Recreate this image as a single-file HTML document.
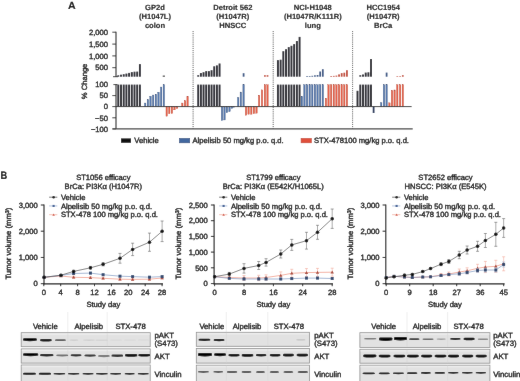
<!DOCTYPE html>
<html><head><meta charset="utf-8"><title>Figure</title>
<style>
html,body{margin:0;padding:0;background:#fff;}
body{width:520px;height:381px;overflow:hidden;}
svg{display:block;text-rendering:geometricPrecision;font-family:"Liberation Sans",sans-serif;}
</style></head><body>
<svg width="520" height="381" viewBox="0 0 520 381">
<defs><filter id="gb" x="0" y="0" width="100%" height="100%" filterUnits="userSpaceOnUse"><feConvolveMatrix order="3" kernelMatrix="0.008 0.032 0.008 0.032 0.84 0.032 0.008 0.032 0.008" edgeMode="duplicate" preserveAlpha="true"/></filter></defs>
<rect width="520" height="381" fill="#fff"/>
<g filter="url(#gb)">
<rect width="520" height="381" fill="#fff"/>
<text x="67.90" y="8.90" font-size="10.6" text-anchor="start" font-weight="bold" fill="#000" stroke="#000" stroke-width="0.12" >A</text>
<text x="155.00" y="10.15" font-size="7.6" text-anchor="middle" font-weight="bold" fill="#111" stroke="#111" stroke-width="0.12" >GP2d</text>
<text x="155.00" y="19.20" font-size="7.6" text-anchor="middle" font-weight="bold" fill="#111" stroke="#111" stroke-width="0.12" >(H1047L)</text>
<text x="155.00" y="28.25" font-size="7.6" text-anchor="middle" font-weight="bold" fill="#111" stroke="#111" stroke-width="0.12" >colon</text>
<text x="232.80" y="10.15" font-size="7.6" text-anchor="middle" font-weight="bold" fill="#111" stroke="#111" stroke-width="0.12" >Detroit 562</text>
<text x="232.80" y="19.20" font-size="7.6" text-anchor="middle" font-weight="bold" fill="#111" stroke="#111" stroke-width="0.12" >(H1047R)</text>
<text x="232.80" y="28.25" font-size="7.6" text-anchor="middle" font-weight="bold" fill="#111" stroke="#111" stroke-width="0.12" >HNSCC</text>
<text x="312.80" y="10.15" font-size="7.6" text-anchor="middle" font-weight="bold" fill="#111" stroke="#111" stroke-width="0.12" >NCI-H1048</text>
<text x="312.80" y="19.20" font-size="7.6" text-anchor="middle" font-weight="bold" fill="#111" stroke="#111" stroke-width="0.12" >(H1047R/K111R)</text>
<text x="312.80" y="28.25" font-size="7.6" text-anchor="middle" font-weight="bold" fill="#111" stroke="#111" stroke-width="0.12" >lung</text>
<text x="383.20" y="10.15" font-size="7.6" text-anchor="middle" font-weight="bold" fill="#111" stroke="#111" stroke-width="0.12" >HCC1954</text>
<text x="383.20" y="19.20" font-size="7.6" text-anchor="middle" font-weight="bold" fill="#111" stroke="#111" stroke-width="0.12" >(H1047R)</text>
<text x="383.20" y="28.25" font-size="7.6" text-anchor="middle" font-weight="bold" fill="#111" stroke="#111" stroke-width="0.12" >BrCa</text>
<line x1="116.00" y1="31.80" x2="116.00" y2="77.00" stroke="#2a2a2a" stroke-width="1.1" />
<line x1="116.00" y1="84.30" x2="116.00" y2="128.90" stroke="#2a2a2a" stroke-width="1.1" />
<line x1="112.30" y1="32.20" x2="116.00" y2="32.20" stroke="#2a2a2a" stroke-width="0.9" />
<text x="108.00" y="34.90" font-size="7.6" text-anchor="end" font-weight="normal" fill="#111" stroke="#111" stroke-width="0.36" >2,000</text>
<line x1="112.30" y1="44.10" x2="116.00" y2="44.10" stroke="#2a2a2a" stroke-width="0.9" />
<text x="108.00" y="46.80" font-size="7.6" text-anchor="end" font-weight="normal" fill="#111" stroke="#111" stroke-width="0.36" >1,500</text>
<line x1="112.30" y1="55.90" x2="116.00" y2="55.90" stroke="#2a2a2a" stroke-width="0.9" />
<text x="108.00" y="58.60" font-size="7.6" text-anchor="end" font-weight="normal" fill="#111" stroke="#111" stroke-width="0.36" >1,000</text>
<line x1="112.30" y1="67.70" x2="116.00" y2="67.70" stroke="#2a2a2a" stroke-width="0.9" />
<text x="108.00" y="70.40" font-size="7.6" text-anchor="end" font-weight="normal" fill="#111" stroke="#111" stroke-width="0.36" >500</text>
<line x1="113.00" y1="76.70" x2="118.00" y2="76.70" stroke="#2a2a2a" stroke-width="0.9" />
<line x1="113.40" y1="84.60" x2="117.50" y2="84.60" stroke="#2a2a2a" stroke-width="0.9" />
<text x="108.00" y="87.30" font-size="7.6" text-anchor="end" font-weight="normal" fill="#111" stroke="#111" stroke-width="0.36" >100</text>
<line x1="112.30" y1="95.60" x2="116.00" y2="95.60" stroke="#2a2a2a" stroke-width="0.9" />
<text x="108.00" y="98.30" font-size="7.6" text-anchor="end" font-weight="normal" fill="#111" stroke="#111" stroke-width="0.36" >50</text>
<line x1="112.30" y1="106.60" x2="116.00" y2="106.60" stroke="#2a2a2a" stroke-width="0.9" />
<text x="108.00" y="109.30" font-size="7.6" text-anchor="end" font-weight="normal" fill="#111" stroke="#111" stroke-width="0.36" >0</text>
<line x1="112.30" y1="117.80" x2="116.00" y2="117.80" stroke="#2a2a2a" stroke-width="0.9" />
<text x="108.00" y="120.50" font-size="7.6" text-anchor="end" font-weight="normal" fill="#111" stroke="#111" stroke-width="0.36" >−50</text>
<line x1="112.30" y1="128.90" x2="116.00" y2="128.90" stroke="#2a2a2a" stroke-width="0.9" />
<text x="108.00" y="131.60" font-size="7.6" text-anchor="end" font-weight="normal" fill="#111" stroke="#111" stroke-width="0.36" >−100</text>
<text x="0.00" y="0.00" font-size="7.6" text-anchor="middle" font-weight="normal" fill="#111" stroke="#111" stroke-width="0.36" transform="translate(86.9 81.4) rotate(-90)">% Change</text>
<line x1="193.10" y1="31.00" x2="193.10" y2="128.50" stroke="#222" stroke-width="0.8" stroke-dasharray="0.9 1.0"/>
<line x1="273.20" y1="31.00" x2="273.20" y2="128.50" stroke="#222" stroke-width="0.8" stroke-dasharray="0.9 1.0"/>
<line x1="352.60" y1="31.00" x2="352.60" y2="128.50" stroke="#222" stroke-width="0.8" stroke-dasharray="0.9 1.0"/>
<rect x="117.35" y="84.60" width="1.90" height="22.00" fill="#26262f" />
<rect x="117.35" y="75.30" width="1.90" height="1.40" fill="#26262f" />
<rect x="120.05" y="84.60" width="1.90" height="22.00" fill="#26262f" />
<rect x="120.05" y="74.70" width="1.90" height="2.00" fill="#26262f" />
<rect x="122.75" y="84.60" width="1.90" height="22.00" fill="#26262f" />
<rect x="122.75" y="74.20" width="1.90" height="2.50" fill="#26262f" />
<rect x="125.45" y="84.60" width="1.90" height="22.00" fill="#26262f" />
<rect x="125.45" y="73.60" width="1.90" height="3.10" fill="#26262f" />
<rect x="128.15" y="84.60" width="1.90" height="22.00" fill="#26262f" />
<rect x="128.15" y="72.90" width="1.90" height="3.80" fill="#26262f" />
<rect x="130.85" y="84.60" width="1.90" height="22.00" fill="#26262f" />
<rect x="130.85" y="72.10" width="1.90" height="4.60" fill="#26262f" />
<rect x="133.55" y="84.60" width="1.90" height="22.00" fill="#26262f" />
<rect x="133.55" y="71.70" width="1.90" height="5.00" fill="#26262f" />
<rect x="136.25" y="84.60" width="1.90" height="22.00" fill="#26262f" />
<rect x="136.25" y="71.60" width="1.90" height="5.10" fill="#26262f" />
<rect x="138.95" y="84.60" width="1.90" height="22.00" fill="#26262f" />
<rect x="138.95" y="64.10" width="1.90" height="12.60" fill="#26262f" />
<rect x="144.47" y="103.05" width="1.45" height="3.40" fill="#4f76ae" stroke="#2c4570" stroke-width="0.3"/>
<rect x="147.13" y="99.55" width="1.45" height="6.90" fill="#4f76ae" stroke="#2c4570" stroke-width="0.3"/>
<rect x="149.79" y="96.25" width="1.45" height="10.20" fill="#4f76ae" stroke="#2c4570" stroke-width="0.3"/>
<rect x="152.45" y="95.05" width="1.45" height="11.40" fill="#4f76ae" stroke="#2c4570" stroke-width="0.3"/>
<rect x="155.11" y="94.15" width="1.45" height="12.30" fill="#4f76ae" stroke="#2c4570" stroke-width="0.3"/>
<rect x="157.78" y="92.15" width="1.45" height="14.30" fill="#4f76ae" stroke="#2c4570" stroke-width="0.3"/>
<rect x="160.44" y="87.05" width="1.45" height="19.40" fill="#4f76ae" stroke="#2c4570" stroke-width="0.3"/>
<rect x="163.09" y="84.75" width="1.45" height="21.70" fill="#4f76ae" stroke="#2c4570" stroke-width="0.3"/>
<rect x="162.72" y="75.60" width="2.20" height="1.10" fill="#333" />
<rect x="165.97" y="106.75" width="1.45" height="9.40" fill="#e85c40" stroke="#b0402c" stroke-width="0.3"/>
<rect x="168.57" y="106.75" width="1.45" height="7.00" fill="#e85c40" stroke="#b0402c" stroke-width="0.3"/>
<rect x="171.17" y="106.75" width="1.45" height="6.80" fill="#e85c40" stroke="#b0402c" stroke-width="0.3"/>
<rect x="173.78" y="106.75" width="1.45" height="3.10" fill="#e85c40" stroke="#b0402c" stroke-width="0.3"/>
<rect x="176.38" y="106.75" width="1.45" height="1.90" fill="#e85c40" stroke="#b0402c" stroke-width="0.3"/>
<rect x="181.58" y="103.05" width="1.45" height="3.40" fill="#e85c40" stroke="#b0402c" stroke-width="0.3"/>
<rect x="184.28" y="100.65" width="1.45" height="5.80" fill="#e85c40" stroke="#b0402c" stroke-width="0.3"/>
<rect x="186.88" y="96.35" width="1.45" height="10.10" fill="#e85c40" stroke="#b0402c" stroke-width="0.3"/>
<rect x="197.25" y="84.60" width="1.90" height="22.00" fill="#26262f" />
<rect x="197.25" y="75.20" width="1.90" height="1.50" fill="#26262f" />
<rect x="199.92" y="84.60" width="1.90" height="22.00" fill="#26262f" />
<rect x="199.92" y="73.00" width="1.90" height="3.70" fill="#26262f" />
<rect x="202.59" y="84.60" width="1.90" height="22.00" fill="#26262f" />
<rect x="202.59" y="72.20" width="1.90" height="4.50" fill="#26262f" />
<rect x="205.26" y="84.60" width="1.90" height="22.00" fill="#26262f" />
<rect x="205.26" y="71.10" width="1.90" height="5.60" fill="#26262f" />
<rect x="207.93" y="84.60" width="1.90" height="22.00" fill="#26262f" />
<rect x="207.93" y="71.10" width="1.90" height="5.60" fill="#26262f" />
<rect x="210.60" y="84.60" width="1.90" height="22.00" fill="#26262f" />
<rect x="210.60" y="70.20" width="1.90" height="6.50" fill="#26262f" />
<rect x="213.27" y="84.60" width="1.90" height="22.00" fill="#26262f" />
<rect x="213.27" y="66.30" width="1.90" height="10.40" fill="#26262f" />
<rect x="215.94" y="84.60" width="1.90" height="22.00" fill="#26262f" />
<rect x="215.94" y="65.40" width="1.90" height="11.30" fill="#26262f" />
<rect x="218.61" y="84.60" width="1.90" height="22.00" fill="#26262f" />
<rect x="218.61" y="63.50" width="1.90" height="13.20" fill="#26262f" />
<rect x="221.28" y="106.75" width="1.45" height="13.80" fill="#4f76ae" stroke="#2c4570" stroke-width="0.3"/>
<rect x="223.78" y="106.75" width="1.45" height="13.20" fill="#4f76ae" stroke="#2c4570" stroke-width="0.3"/>
<rect x="226.18" y="106.75" width="1.45" height="6.00" fill="#4f76ae" stroke="#2c4570" stroke-width="0.3"/>
<rect x="228.78" y="106.75" width="1.45" height="4.90" fill="#4f76ae" stroke="#2c4570" stroke-width="0.3"/>
<rect x="231.28" y="106.75" width="1.45" height="1.70" fill="#4f76ae" stroke="#2c4570" stroke-width="0.3"/>
<rect x="233.28" y="106.75" width="1.45" height="0.50" fill="#4f76ae" stroke="#2c4570" stroke-width="0.3"/>
<rect x="237.47" y="97.55" width="1.45" height="8.90" fill="#4f76ae" stroke="#2c4570" stroke-width="0.3"/>
<rect x="240.08" y="92.05" width="1.45" height="14.40" fill="#4f76ae" stroke="#2c4570" stroke-width="0.3"/>
<rect x="242.88" y="84.75" width="1.45" height="21.70" fill="#4f76ae" stroke="#2c4570" stroke-width="0.3"/>
<rect x="242.72" y="73.20" width="1.75" height="3.50" fill="#3a5684" />
<rect x="245.28" y="106.75" width="1.45" height="8.50" fill="#e85c40" stroke="#b0402c" stroke-width="0.3"/>
<rect x="247.88" y="106.75" width="1.45" height="7.50" fill="#e85c40" stroke="#b0402c" stroke-width="0.3"/>
<rect x="250.58" y="106.75" width="1.45" height="7.50" fill="#e85c40" stroke="#b0402c" stroke-width="0.3"/>
<rect x="253.18" y="106.75" width="1.45" height="7.00" fill="#e85c40" stroke="#b0402c" stroke-width="0.3"/>
<rect x="255.78" y="106.75" width="1.45" height="6.40" fill="#e85c40" stroke="#b0402c" stroke-width="0.3"/>
<rect x="258.38" y="95.15" width="1.45" height="11.30" fill="#e85c40" stroke="#b0402c" stroke-width="0.3"/>
<rect x="261.27" y="89.85" width="1.45" height="16.60" fill="#e85c40" stroke="#b0402c" stroke-width="0.3"/>
<rect x="264.17" y="84.75" width="1.45" height="21.70" fill="#e85c40" stroke="#b0402c" stroke-width="0.3"/>
<rect x="266.77" y="84.75" width="1.45" height="21.70" fill="#e85c40" stroke="#b0402c" stroke-width="0.3"/>
<rect x="264.02" y="75.20" width="1.75" height="1.50" fill="#c04a38" />
<rect x="266.62" y="75.20" width="1.75" height="1.50" fill="#c04a38" />
<rect x="276.95" y="84.60" width="1.90" height="22.00" fill="#26262f" />
<rect x="276.95" y="60.10" width="1.90" height="16.60" fill="#26262f" />
<rect x="279.66" y="84.60" width="1.90" height="22.00" fill="#26262f" />
<rect x="279.66" y="59.70" width="1.90" height="17.00" fill="#26262f" />
<rect x="282.37" y="84.60" width="1.90" height="22.00" fill="#26262f" />
<rect x="282.37" y="51.20" width="1.90" height="25.50" fill="#26262f" />
<rect x="285.08" y="84.60" width="1.90" height="22.00" fill="#26262f" />
<rect x="285.08" y="49.20" width="1.90" height="27.50" fill="#26262f" />
<rect x="287.79" y="84.60" width="1.90" height="22.00" fill="#26262f" />
<rect x="287.79" y="47.10" width="1.90" height="29.60" fill="#26262f" />
<rect x="290.50" y="84.60" width="1.90" height="22.00" fill="#26262f" />
<rect x="290.50" y="45.80" width="1.90" height="30.90" fill="#26262f" />
<rect x="293.21" y="84.60" width="1.90" height="22.00" fill="#26262f" />
<rect x="293.21" y="44.10" width="1.90" height="32.60" fill="#26262f" />
<rect x="295.92" y="84.60" width="1.90" height="22.00" fill="#26262f" />
<rect x="295.92" y="41.00" width="1.90" height="35.70" fill="#26262f" />
<rect x="298.63" y="84.60" width="1.90" height="22.00" fill="#26262f" />
<rect x="298.63" y="36.90" width="1.90" height="39.80" fill="#26262f" />
<rect x="301.07" y="96.25" width="1.45" height="10.20" fill="#4f76ae" stroke="#2c4570" stroke-width="0.3"/>
<rect x="303.70" y="84.75" width="1.45" height="21.70" fill="#4f76ae" stroke="#2c4570" stroke-width="0.3"/>
<rect x="306.32" y="84.75" width="1.45" height="21.70" fill="#4f76ae" stroke="#2c4570" stroke-width="0.3"/>
<rect x="306.18" y="76.00" width="1.75" height="0.70" fill="#3a5684" />
<rect x="308.95" y="84.75" width="1.45" height="21.70" fill="#4f76ae" stroke="#2c4570" stroke-width="0.3"/>
<rect x="308.80" y="76.00" width="1.75" height="0.70" fill="#3a5684" />
<rect x="311.57" y="84.75" width="1.45" height="21.70" fill="#4f76ae" stroke="#2c4570" stroke-width="0.3"/>
<rect x="311.43" y="75.80" width="1.75" height="0.90" fill="#3a5684" />
<rect x="314.20" y="84.75" width="1.45" height="21.70" fill="#4f76ae" stroke="#2c4570" stroke-width="0.3"/>
<rect x="314.05" y="75.30" width="1.75" height="1.40" fill="#3a5684" />
<rect x="316.82" y="84.75" width="1.45" height="21.70" fill="#4f76ae" stroke="#2c4570" stroke-width="0.3"/>
<rect x="316.68" y="75.00" width="1.75" height="1.70" fill="#3a5684" />
<rect x="319.45" y="84.75" width="1.45" height="21.70" fill="#4f76ae" stroke="#2c4570" stroke-width="0.3"/>
<rect x="319.30" y="71.50" width="1.75" height="5.20" fill="#3a5684" />
<rect x="322.07" y="84.75" width="1.45" height="21.70" fill="#4f76ae" stroke="#2c4570" stroke-width="0.3"/>
<rect x="321.93" y="69.20" width="1.75" height="7.50" fill="#3a5684" />
<rect x="325.17" y="98.15" width="1.45" height="8.30" fill="#e85c40" stroke="#b0402c" stroke-width="0.3"/>
<rect x="327.80" y="84.75" width="1.45" height="21.70" fill="#e85c40" stroke="#b0402c" stroke-width="0.3"/>
<rect x="330.43" y="84.75" width="1.45" height="21.70" fill="#e85c40" stroke="#b0402c" stroke-width="0.3"/>
<rect x="330.28" y="76.00" width="1.75" height="0.70" fill="#c04a38" />
<rect x="333.06" y="84.75" width="1.45" height="21.70" fill="#e85c40" stroke="#b0402c" stroke-width="0.3"/>
<rect x="332.91" y="75.90" width="1.75" height="0.80" fill="#c04a38" />
<rect x="335.69" y="84.75" width="1.45" height="21.70" fill="#e85c40" stroke="#b0402c" stroke-width="0.3"/>
<rect x="335.54" y="75.60" width="1.75" height="1.10" fill="#c04a38" />
<rect x="338.32" y="84.75" width="1.45" height="21.70" fill="#e85c40" stroke="#b0402c" stroke-width="0.3"/>
<rect x="338.17" y="74.40" width="1.75" height="2.30" fill="#c04a38" />
<rect x="340.95" y="84.75" width="1.45" height="21.70" fill="#e85c40" stroke="#b0402c" stroke-width="0.3"/>
<rect x="340.80" y="73.10" width="1.75" height="3.60" fill="#c04a38" />
<rect x="343.58" y="84.75" width="1.45" height="21.70" fill="#e85c40" stroke="#b0402c" stroke-width="0.3"/>
<rect x="343.44" y="72.70" width="1.75" height="4.00" fill="#c04a38" />
<rect x="346.21" y="84.75" width="1.45" height="21.70" fill="#e85c40" stroke="#b0402c" stroke-width="0.3"/>
<rect x="346.06" y="70.20" width="1.75" height="6.50" fill="#c04a38" />
<rect x="356.55" y="90.80" width="1.90" height="15.80" fill="#26262f" />
<rect x="359.35" y="84.60" width="1.90" height="22.00" fill="#26262f" />
<rect x="359.35" y="75.20" width="1.90" height="1.50" fill="#26262f" />
<rect x="362.05" y="84.60" width="1.90" height="22.00" fill="#26262f" />
<rect x="362.05" y="74.50" width="1.90" height="2.20" fill="#26262f" />
<rect x="364.75" y="84.60" width="1.90" height="22.00" fill="#26262f" />
<rect x="364.75" y="72.60" width="1.90" height="4.10" fill="#26262f" />
<rect x="367.45" y="84.60" width="1.90" height="22.00" fill="#26262f" />
<rect x="367.45" y="72.30" width="1.90" height="4.40" fill="#26262f" />
<rect x="370.05" y="84.60" width="1.90" height="22.00" fill="#26262f" />
<rect x="370.05" y="59.00" width="1.90" height="17.70" fill="#26262f" />
<rect x="372.73" y="106.60" width="1.75" height="6.40" fill="#22345a" />
<rect x="380.47" y="102.75" width="1.45" height="3.70" fill="#4f76ae" stroke="#2c4570" stroke-width="0.3"/>
<rect x="383.27" y="84.75" width="1.45" height="21.70" fill="#4f76ae" stroke="#2c4570" stroke-width="0.3"/>
<rect x="385.88" y="84.75" width="1.45" height="21.70" fill="#4f76ae" stroke="#2c4570" stroke-width="0.3"/>
<rect x="385.73" y="72.60" width="1.75" height="4.10" fill="#3a5684" />
<rect x="388.67" y="102.85" width="1.45" height="3.60" fill="#e85c40" stroke="#b0402c" stroke-width="0.3"/>
<rect x="391.27" y="90.35" width="1.45" height="16.10" fill="#e85c40" stroke="#b0402c" stroke-width="0.3"/>
<rect x="393.88" y="89.95" width="1.45" height="16.50" fill="#e85c40" stroke="#b0402c" stroke-width="0.3"/>
<rect x="396.57" y="84.75" width="1.45" height="21.70" fill="#e85c40" stroke="#b0402c" stroke-width="0.3"/>
<rect x="396.43" y="76.10" width="1.75" height="0.60" fill="#c04a38" />
<rect x="399.38" y="84.75" width="1.45" height="21.70" fill="#e85c40" stroke="#b0402c" stroke-width="0.3"/>
<rect x="399.23" y="76.10" width="1.75" height="0.60" fill="#c04a38" />
<rect x="402.07" y="84.75" width="1.45" height="21.70" fill="#e85c40" stroke="#b0402c" stroke-width="0.3"/>
<rect x="401.93" y="75.20" width="1.75" height="1.50" fill="#c04a38" />
<line x1="116.00" y1="106.60" x2="411.60" y2="106.60" stroke="#222" stroke-width="0.9" />
<line x1="112.60" y1="128.90" x2="412.70" y2="128.90" stroke="#444" stroke-width="1.2" />
<rect x="121.00" y="138.40" width="10.00" height="4.40" fill="#111" />
<text x="134.30" y="142.80" font-size="7.6" text-anchor="start" font-weight="normal" fill="#111" stroke="#111" stroke-width="0.36" >Vehicle</text>
<rect x="179.50" y="138.50" width="10.20" height="4.30" fill="#43679f" stroke="#2b4a7c" stroke-width="0.6"/>
<text x="192.50" y="142.80" font-size="7.6" text-anchor="start" font-weight="normal" fill="#111" stroke="#111" stroke-width="0.36" >Alpelisib 50 mg/kg p.o. q.d.</text>
<rect x="301.10" y="138.50" width="10.20" height="4.30" fill="#e04f3a" stroke="#c03c28" stroke-width="0.6"/>
<text x="314.00" y="142.80" font-size="7.6" text-anchor="start" font-weight="normal" fill="#111" stroke="#111" stroke-width="0.36" >STX-478100 mg/kg p.o. q.d.</text>
<text x="0.00" y="0.00" font-size="10.8" text-anchor="start" font-weight="bold" fill="#000" stroke="#000" stroke-width="0.12" transform="translate(0.55 178.5) scale(0.86 1)">B</text>
<text x="103.30" y="179.90" font-size="7.6" text-anchor="middle" font-weight="normal" fill="#111" stroke="#111" stroke-width="0.36" >ST1056 efficacy</text>
<text x="103.30" y="188.90" font-size="7.6" text-anchor="middle" font-weight="normal" fill="#111" stroke="#111" stroke-width="0.36" >BrCa: PI3Kα (H1047R)</text>
<line x1="49.10" y1="197.20" x2="57.30" y2="197.20" stroke="#444" stroke-width="0.7" />
<circle cx="53.60" cy="197.20" r="1.25" fill="#111"/>
<text x="60.90" y="199.90" font-size="7.6" text-anchor="start" font-weight="normal" fill="#111" stroke="#111" stroke-width="0.36" >Vehicle</text>
<line x1="49.10" y1="205.95" x2="57.30" y2="205.95" stroke="#97acd0" stroke-width="0.7" />
<rect x="52.55" y="204.90" width="2.10" height="2.10" fill="#3d5f95" />
<text x="60.90" y="208.65" font-size="7.6" text-anchor="start" font-weight="normal" fill="#111" stroke="#111" stroke-width="0.36" >Alpelisib 50 mg/kg p.o. q.d.</text>
<line x1="49.10" y1="214.70" x2="57.30" y2="214.70" stroke="#f2a898" stroke-width="0.7" />
<path d="M52.35 215.70 L54.85 215.70 L53.60 213.45 Z" fill="#d05a48"/>
<text x="60.90" y="217.40" font-size="7.6" text-anchor="start" font-weight="normal" fill="#111" stroke="#111" stroke-width="0.36" >STX-478 100 mg/kg p.o. q.d.</text>
<line x1="44.00" y1="204.60" x2="44.00" y2="284.30" stroke="#1a1a1a" stroke-width="1.1" />
<line x1="40.80" y1="205.00" x2="44.00" y2="205.00" stroke="#222" stroke-width="1.0" />
<text x="37.70" y="207.75" font-size="7.6" text-anchor="end" font-weight="normal" fill="#111" stroke="#111" stroke-width="0.36" >3,000</text>
<line x1="40.80" y1="231.20" x2="44.00" y2="231.20" stroke="#222" stroke-width="1.0" />
<text x="37.70" y="233.95" font-size="7.6" text-anchor="end" font-weight="normal" fill="#111" stroke="#111" stroke-width="0.36" >2,000</text>
<line x1="40.80" y1="257.45" x2="44.00" y2="257.45" stroke="#222" stroke-width="1.0" />
<text x="37.70" y="260.20" font-size="7.6" text-anchor="end" font-weight="normal" fill="#111" stroke="#111" stroke-width="0.36" >1,000</text>
<line x1="40.80" y1="283.70" x2="44.00" y2="283.70" stroke="#222" stroke-width="1.0" />
<text x="37.70" y="286.45" font-size="7.6" text-anchor="end" font-weight="normal" fill="#111" stroke="#111" stroke-width="0.36" >0</text>
<line x1="43.50" y1="283.80" x2="163.00" y2="283.80" stroke="#1a1a1a" stroke-width="1.25" />
<line x1="43.80" y1="283.80" x2="43.80" y2="286.20" stroke="#222" stroke-width="1.0" />
<text x="43.80" y="295.00" font-size="7.6" text-anchor="middle" font-weight="normal" fill="#111" stroke="#111" stroke-width="0.36" >0</text>
<line x1="60.70" y1="283.80" x2="60.70" y2="286.20" stroke="#222" stroke-width="1.0" />
<text x="60.70" y="295.00" font-size="7.6" text-anchor="middle" font-weight="normal" fill="#111" stroke="#111" stroke-width="0.36" >4</text>
<line x1="77.60" y1="283.80" x2="77.60" y2="286.20" stroke="#222" stroke-width="1.0" />
<text x="77.60" y="295.00" font-size="7.6" text-anchor="middle" font-weight="normal" fill="#111" stroke="#111" stroke-width="0.36" >8</text>
<line x1="94.50" y1="283.80" x2="94.50" y2="286.20" stroke="#222" stroke-width="1.0" />
<text x="94.50" y="295.00" font-size="7.6" text-anchor="middle" font-weight="normal" fill="#111" stroke="#111" stroke-width="0.36" >12</text>
<line x1="111.40" y1="283.80" x2="111.40" y2="286.20" stroke="#222" stroke-width="1.0" />
<text x="111.40" y="295.00" font-size="7.6" text-anchor="middle" font-weight="normal" fill="#111" stroke="#111" stroke-width="0.36" >16</text>
<line x1="128.30" y1="283.80" x2="128.30" y2="286.20" stroke="#222" stroke-width="1.0" />
<text x="128.30" y="295.00" font-size="7.6" text-anchor="middle" font-weight="normal" fill="#111" stroke="#111" stroke-width="0.36" >20</text>
<line x1="145.20" y1="283.80" x2="145.20" y2="286.20" stroke="#222" stroke-width="1.0" />
<text x="145.20" y="295.00" font-size="7.6" text-anchor="middle" font-weight="normal" fill="#111" stroke="#111" stroke-width="0.36" >24</text>
<line x1="162.10" y1="283.80" x2="162.10" y2="286.20" stroke="#222" stroke-width="1.0" />
<text x="162.10" y="295.00" font-size="7.6" text-anchor="middle" font-weight="normal" fill="#111" stroke="#111" stroke-width="0.36" >28</text>
<text x="103.30" y="306.50" font-size="7.6" text-anchor="middle" font-weight="normal" fill="#111" stroke="#111" stroke-width="0.36" >Study day</text>
<text x="0.00" y="0.00" font-size="7.7" text-anchor="middle" font-weight="normal" fill="#111" stroke="#111" stroke-width="0.36" transform="translate(11.30 243.6) rotate(-90)">Tumor volume (mm<tspan font-size="5.4" dy="-2.7">3</tspan><tspan dy="2.7">)</tspan></text>
<polyline points="44.10,277.30 60.96,276.00 73.61,277.30 90.47,277.60 103.11,278.30 119.97,279.20 132.62,279.40 149.47,279.20 162.12,278.00" fill="none" stroke="#ec8068" stroke-width="0.6"/>
<path d="M42.40 278.60 L45.80 278.60 L44.10 275.60 Z" fill="#a8483a"/>
<path d="M59.26 277.30 L62.66 277.30 L60.96 274.30 Z" fill="#a8483a"/>
<line x1="73.61" y1="276.30" x2="73.61" y2="278.30" stroke="#f0a090" stroke-width="0.5" />
<line x1="72.11" y1="276.30" x2="75.11" y2="276.30" stroke="#f0a090" stroke-width="0.55" />
<line x1="72.11" y1="278.30" x2="75.11" y2="278.30" stroke="#f0a090" stroke-width="0.55" />
<path d="M71.91 278.60 L75.31 278.60 L73.61 275.60 Z" fill="#a8483a"/>
<line x1="90.47" y1="276.60" x2="90.47" y2="278.60" stroke="#f0a090" stroke-width="0.5" />
<line x1="88.97" y1="276.60" x2="91.97" y2="276.60" stroke="#f0a090" stroke-width="0.55" />
<line x1="88.97" y1="278.60" x2="91.97" y2="278.60" stroke="#f0a090" stroke-width="0.55" />
<path d="M88.77 278.90 L92.17 278.90 L90.47 275.90 Z" fill="#a8483a"/>
<line x1="103.11" y1="277.30" x2="103.11" y2="279.30" stroke="#f0a090" stroke-width="0.5" />
<line x1="101.61" y1="277.30" x2="104.61" y2="277.30" stroke="#f0a090" stroke-width="0.55" />
<line x1="101.61" y1="279.30" x2="104.61" y2="279.30" stroke="#f0a090" stroke-width="0.55" />
<path d="M101.41 279.60 L104.81 279.60 L103.11 276.60 Z" fill="#a8483a"/>
<line x1="119.97" y1="278.20" x2="119.97" y2="280.20" stroke="#f0a090" stroke-width="0.5" />
<line x1="118.47" y1="278.20" x2="121.47" y2="278.20" stroke="#f0a090" stroke-width="0.55" />
<line x1="118.47" y1="280.20" x2="121.47" y2="280.20" stroke="#f0a090" stroke-width="0.55" />
<path d="M118.27 280.50 L121.67 280.50 L119.97 277.50 Z" fill="#a8483a"/>
<line x1="132.62" y1="278.40" x2="132.62" y2="280.40" stroke="#f0a090" stroke-width="0.5" />
<line x1="131.12" y1="278.40" x2="134.12" y2="278.40" stroke="#f0a090" stroke-width="0.55" />
<line x1="131.12" y1="280.40" x2="134.12" y2="280.40" stroke="#f0a090" stroke-width="0.55" />
<path d="M130.92 280.70 L134.31 280.70 L132.62 277.70 Z" fill="#a8483a"/>
<line x1="149.47" y1="278.20" x2="149.47" y2="280.20" stroke="#f0a090" stroke-width="0.5" />
<line x1="147.97" y1="278.20" x2="150.97" y2="278.20" stroke="#f0a090" stroke-width="0.55" />
<line x1="147.97" y1="280.20" x2="150.97" y2="280.20" stroke="#f0a090" stroke-width="0.55" />
<path d="M147.78 280.50 L151.17 280.50 L149.47 277.50 Z" fill="#a8483a"/>
<line x1="162.12" y1="277.00" x2="162.12" y2="279.00" stroke="#f0a090" stroke-width="0.5" />
<line x1="160.62" y1="277.00" x2="163.62" y2="277.00" stroke="#f0a090" stroke-width="0.55" />
<line x1="160.62" y1="279.00" x2="163.62" y2="279.00" stroke="#f0a090" stroke-width="0.55" />
<path d="M160.42 279.30 L163.82 279.30 L162.12 276.30 Z" fill="#a8483a"/>
<polyline points="44.10,277.30 60.96,275.40 73.61,273.50 90.47,273.10 103.11,274.70 119.97,276.20 132.62,276.60 149.47,277.20 162.12,276.60" fill="none" stroke="#6a88b8" stroke-width="0.6"/>
<rect x="42.65" y="275.85" width="2.90" height="2.90" fill="#30486e" />
<rect x="59.51" y="273.95" width="2.90" height="2.90" fill="#30486e" />
<line x1="73.61" y1="272.50" x2="73.61" y2="274.50" stroke="#90a8cc" stroke-width="0.5" />
<line x1="72.11" y1="272.50" x2="75.11" y2="272.50" stroke="#90a8cc" stroke-width="0.55" />
<line x1="72.11" y1="274.50" x2="75.11" y2="274.50" stroke="#90a8cc" stroke-width="0.55" />
<rect x="72.16" y="272.05" width="2.90" height="2.90" fill="#30486e" />
<line x1="90.47" y1="272.10" x2="90.47" y2="274.10" stroke="#90a8cc" stroke-width="0.5" />
<line x1="88.97" y1="272.10" x2="91.97" y2="272.10" stroke="#90a8cc" stroke-width="0.55" />
<line x1="88.97" y1="274.10" x2="91.97" y2="274.10" stroke="#90a8cc" stroke-width="0.55" />
<rect x="89.02" y="271.65" width="2.90" height="2.90" fill="#30486e" />
<line x1="103.11" y1="273.70" x2="103.11" y2="275.70" stroke="#90a8cc" stroke-width="0.5" />
<line x1="101.61" y1="273.70" x2="104.61" y2="273.70" stroke="#90a8cc" stroke-width="0.55" />
<line x1="101.61" y1="275.70" x2="104.61" y2="275.70" stroke="#90a8cc" stroke-width="0.55" />
<rect x="101.66" y="273.25" width="2.90" height="2.90" fill="#30486e" />
<line x1="119.97" y1="275.20" x2="119.97" y2="277.20" stroke="#90a8cc" stroke-width="0.5" />
<line x1="118.47" y1="275.20" x2="121.47" y2="275.20" stroke="#90a8cc" stroke-width="0.55" />
<line x1="118.47" y1="277.20" x2="121.47" y2="277.20" stroke="#90a8cc" stroke-width="0.55" />
<rect x="118.52" y="274.75" width="2.90" height="2.90" fill="#30486e" />
<line x1="132.62" y1="275.60" x2="132.62" y2="277.60" stroke="#90a8cc" stroke-width="0.5" />
<line x1="131.12" y1="275.60" x2="134.12" y2="275.60" stroke="#90a8cc" stroke-width="0.55" />
<line x1="131.12" y1="277.60" x2="134.12" y2="277.60" stroke="#90a8cc" stroke-width="0.55" />
<rect x="131.17" y="275.15" width="2.90" height="2.90" fill="#30486e" />
<line x1="149.47" y1="276.20" x2="149.47" y2="278.20" stroke="#90a8cc" stroke-width="0.5" />
<line x1="147.97" y1="276.20" x2="150.97" y2="276.20" stroke="#90a8cc" stroke-width="0.55" />
<line x1="147.97" y1="278.20" x2="150.97" y2="278.20" stroke="#90a8cc" stroke-width="0.55" />
<rect x="148.03" y="275.75" width="2.90" height="2.90" fill="#30486e" />
<line x1="162.12" y1="275.60" x2="162.12" y2="277.60" stroke="#90a8cc" stroke-width="0.5" />
<line x1="160.62" y1="275.60" x2="163.62" y2="275.60" stroke="#90a8cc" stroke-width="0.55" />
<line x1="160.62" y1="277.60" x2="163.62" y2="277.60" stroke="#90a8cc" stroke-width="0.55" />
<rect x="160.67" y="275.15" width="2.90" height="2.90" fill="#30486e" />
<polyline points="44.10,277.30 60.96,275.20 73.61,271.40 90.47,267.80 103.11,264.30 119.97,258.30 132.62,249.40 149.47,242.20 162.12,231.30" fill="none" stroke="#333" stroke-width="0.6"/>
<circle cx="44.10" cy="277.30" r="1.75" fill="#111"/>
<circle cx="60.96" cy="275.20" r="1.75" fill="#111"/>
<line x1="73.61" y1="270.20" x2="73.61" y2="272.60" stroke="#555" stroke-width="0.5" />
<line x1="72.11" y1="270.20" x2="75.11" y2="270.20" stroke="#555" stroke-width="0.55" />
<line x1="72.11" y1="272.60" x2="75.11" y2="272.60" stroke="#555" stroke-width="0.55" />
<circle cx="73.61" cy="271.40" r="1.75" fill="#111"/>
<line x1="90.47" y1="266.40" x2="90.47" y2="269.20" stroke="#555" stroke-width="0.5" />
<line x1="88.97" y1="266.40" x2="91.97" y2="266.40" stroke="#555" stroke-width="0.55" />
<line x1="88.97" y1="269.20" x2="91.97" y2="269.20" stroke="#555" stroke-width="0.55" />
<circle cx="90.47" cy="267.80" r="1.75" fill="#111"/>
<line x1="103.11" y1="262.70" x2="103.11" y2="265.90" stroke="#555" stroke-width="0.5" />
<line x1="101.61" y1="262.70" x2="104.61" y2="262.70" stroke="#555" stroke-width="0.55" />
<line x1="101.61" y1="265.90" x2="104.61" y2="265.90" stroke="#555" stroke-width="0.55" />
<circle cx="103.11" cy="264.30" r="1.75" fill="#111"/>
<line x1="119.97" y1="253.40" x2="119.97" y2="263.20" stroke="#555" stroke-width="0.5" />
<line x1="118.47" y1="253.40" x2="121.47" y2="253.40" stroke="#555" stroke-width="0.55" />
<line x1="118.47" y1="263.20" x2="121.47" y2="263.20" stroke="#555" stroke-width="0.55" />
<circle cx="119.97" cy="258.30" r="1.75" fill="#111"/>
<line x1="132.62" y1="243.20" x2="132.62" y2="255.60" stroke="#555" stroke-width="0.5" />
<line x1="131.12" y1="243.20" x2="134.12" y2="243.20" stroke="#555" stroke-width="0.55" />
<line x1="131.12" y1="255.60" x2="134.12" y2="255.60" stroke="#555" stroke-width="0.55" />
<circle cx="132.62" cy="249.40" r="1.75" fill="#111"/>
<line x1="149.47" y1="233.10" x2="149.47" y2="251.30" stroke="#555" stroke-width="0.5" />
<line x1="147.97" y1="233.10" x2="150.97" y2="233.10" stroke="#555" stroke-width="0.55" />
<line x1="147.97" y1="251.30" x2="150.97" y2="251.30" stroke="#555" stroke-width="0.55" />
<circle cx="149.47" cy="242.20" r="1.75" fill="#111"/>
<line x1="162.12" y1="221.00" x2="162.12" y2="241.60" stroke="#555" stroke-width="0.5" />
<line x1="160.62" y1="221.00" x2="163.62" y2="221.00" stroke="#555" stroke-width="0.55" />
<line x1="160.62" y1="241.60" x2="163.62" y2="241.60" stroke="#555" stroke-width="0.55" />
<circle cx="162.12" cy="231.30" r="1.75" fill="#111"/>
<text x="273.30" y="179.90" font-size="7.6" text-anchor="middle" font-weight="normal" fill="#111" stroke="#111" stroke-width="0.36" >ST1799 efficacy</text>
<text x="273.30" y="188.90" font-size="7.6" text-anchor="middle" font-weight="normal" fill="#111" stroke="#111" stroke-width="0.36" >BrCa: PI3Kα (E542K/H1065L)</text>
<line x1="219.10" y1="197.20" x2="227.30" y2="197.20" stroke="#444" stroke-width="0.7" />
<circle cx="223.60" cy="197.20" r="1.25" fill="#111"/>
<text x="230.90" y="199.90" font-size="7.6" text-anchor="start" font-weight="normal" fill="#111" stroke="#111" stroke-width="0.36" >Vehicle</text>
<line x1="219.10" y1="205.95" x2="227.30" y2="205.95" stroke="#97acd0" stroke-width="0.7" />
<rect x="222.55" y="204.90" width="2.10" height="2.10" fill="#3d5f95" />
<text x="230.90" y="208.65" font-size="7.6" text-anchor="start" font-weight="normal" fill="#111" stroke="#111" stroke-width="0.36" >Alpelisib 50 mg/kg p.o. q.d.</text>
<line x1="219.10" y1="214.70" x2="227.30" y2="214.70" stroke="#f2a898" stroke-width="0.7" />
<path d="M222.35 215.70 L224.85 215.70 L223.60 213.45 Z" fill="#d05a48"/>
<text x="230.90" y="217.40" font-size="7.6" text-anchor="start" font-weight="normal" fill="#111" stroke="#111" stroke-width="0.36" >STX-478 100 mg/kg p.o. q.d.</text>
<line x1="214.10" y1="204.60" x2="214.10" y2="284.30" stroke="#1a1a1a" stroke-width="1.1" />
<line x1="210.90" y1="205.00" x2="214.10" y2="205.00" stroke="#222" stroke-width="1.0" />
<text x="207.80" y="207.75" font-size="7.6" text-anchor="end" font-weight="normal" fill="#111" stroke="#111" stroke-width="0.36" >2,500</text>
<line x1="210.90" y1="220.70" x2="214.10" y2="220.70" stroke="#222" stroke-width="1.0" />
<text x="207.80" y="223.45" font-size="7.6" text-anchor="end" font-weight="normal" fill="#111" stroke="#111" stroke-width="0.36" >2,000</text>
<line x1="210.90" y1="236.40" x2="214.10" y2="236.40" stroke="#222" stroke-width="1.0" />
<text x="207.80" y="239.15" font-size="7.6" text-anchor="end" font-weight="normal" fill="#111" stroke="#111" stroke-width="0.36" >1,500</text>
<line x1="210.90" y1="252.10" x2="214.10" y2="252.10" stroke="#222" stroke-width="1.0" />
<text x="207.80" y="254.85" font-size="7.6" text-anchor="end" font-weight="normal" fill="#111" stroke="#111" stroke-width="0.36" >1,000</text>
<line x1="210.90" y1="267.80" x2="214.10" y2="267.80" stroke="#222" stroke-width="1.0" />
<text x="207.80" y="270.55" font-size="7.6" text-anchor="end" font-weight="normal" fill="#111" stroke="#111" stroke-width="0.36" >500</text>
<line x1="210.90" y1="283.60" x2="214.10" y2="283.60" stroke="#222" stroke-width="1.0" />
<text x="207.80" y="286.35" font-size="7.6" text-anchor="end" font-weight="normal" fill="#111" stroke="#111" stroke-width="0.36" >0</text>
<line x1="213.60" y1="283.80" x2="333.00" y2="283.80" stroke="#1a1a1a" stroke-width="1.25" />
<line x1="214.60" y1="283.80" x2="214.60" y2="286.20" stroke="#222" stroke-width="1.0" />
<text x="214.60" y="295.00" font-size="7.6" text-anchor="middle" font-weight="normal" fill="#111" stroke="#111" stroke-width="0.36" >0</text>
<line x1="244.00" y1="283.80" x2="244.00" y2="286.20" stroke="#222" stroke-width="1.0" />
<text x="244.00" y="295.00" font-size="7.6" text-anchor="middle" font-weight="normal" fill="#111" stroke="#111" stroke-width="0.36" >8</text>
<line x1="273.40" y1="283.80" x2="273.40" y2="286.20" stroke="#222" stroke-width="1.0" />
<text x="273.40" y="295.00" font-size="7.6" text-anchor="middle" font-weight="normal" fill="#111" stroke="#111" stroke-width="0.36" >16</text>
<line x1="302.70" y1="283.80" x2="302.70" y2="286.20" stroke="#222" stroke-width="1.0" />
<text x="302.70" y="295.00" font-size="7.6" text-anchor="middle" font-weight="normal" fill="#111" stroke="#111" stroke-width="0.36" >24</text>
<line x1="332.20" y1="283.80" x2="332.20" y2="286.20" stroke="#222" stroke-width="1.0" />
<text x="332.20" y="295.00" font-size="7.6" text-anchor="middle" font-weight="normal" fill="#111" stroke="#111" stroke-width="0.36" >28</text>
<text x="273.35" y="306.50" font-size="7.6" text-anchor="middle" font-weight="normal" fill="#111" stroke="#111" stroke-width="0.36" >Study day</text>
<text x="0.00" y="0.00" font-size="7.7" text-anchor="middle" font-weight="normal" fill="#111" stroke="#111" stroke-width="0.36" transform="translate(181.30 243.6) rotate(-90)">Tumor volume (mm<tspan font-size="5.4" dy="-2.7">3</tspan><tspan dy="2.7">)</tspan></text>
<polyline points="214.60,276.70 229.30,277.50 244.00,278.00 258.70,278.00 266.05,277.50 280.75,275.40 291.77,273.30 306.48,272.60 317.50,272.40 332.20,272.20" fill="none" stroke="#ec8068" stroke-width="0.6"/>
<path d="M212.90 278.00 L216.30 278.00 L214.60 275.00 Z" fill="#a8483a"/>
<line x1="229.30" y1="276.00" x2="229.30" y2="279.00" stroke="#f0a090" stroke-width="0.5" />
<line x1="227.80" y1="276.00" x2="230.80" y2="276.00" stroke="#f0a090" stroke-width="0.55" />
<line x1="227.80" y1="279.00" x2="230.80" y2="279.00" stroke="#f0a090" stroke-width="0.55" />
<path d="M227.60 278.80 L231.00 278.80 L229.30 275.80 Z" fill="#a8483a"/>
<line x1="244.00" y1="275.50" x2="244.00" y2="280.50" stroke="#f0a090" stroke-width="0.5" />
<line x1="242.50" y1="275.50" x2="245.50" y2="275.50" stroke="#f0a090" stroke-width="0.55" />
<line x1="242.50" y1="280.50" x2="245.50" y2="280.50" stroke="#f0a090" stroke-width="0.55" />
<path d="M242.30 279.30 L245.70 279.30 L244.00 276.30 Z" fill="#a8483a"/>
<line x1="258.70" y1="275.30" x2="258.70" y2="280.70" stroke="#f0a090" stroke-width="0.5" />
<line x1="257.20" y1="275.30" x2="260.20" y2="275.30" stroke="#f0a090" stroke-width="0.55" />
<line x1="257.20" y1="280.70" x2="260.20" y2="280.70" stroke="#f0a090" stroke-width="0.55" />
<path d="M257.00 279.30 L260.40 279.30 L258.70 276.30 Z" fill="#a8483a"/>
<line x1="266.05" y1="274.80" x2="266.05" y2="280.20" stroke="#f0a090" stroke-width="0.5" />
<line x1="264.55" y1="274.80" x2="267.55" y2="274.80" stroke="#f0a090" stroke-width="0.55" />
<line x1="264.55" y1="280.20" x2="267.55" y2="280.20" stroke="#f0a090" stroke-width="0.55" />
<path d="M264.35 278.80 L267.75 278.80 L266.05 275.80 Z" fill="#a8483a"/>
<line x1="280.75" y1="271.90" x2="280.75" y2="278.90" stroke="#f0a090" stroke-width="0.5" />
<line x1="279.25" y1="271.90" x2="282.25" y2="271.90" stroke="#f0a090" stroke-width="0.55" />
<line x1="279.25" y1="278.90" x2="282.25" y2="278.90" stroke="#f0a090" stroke-width="0.55" />
<path d="M279.05 276.70 L282.45 276.70 L280.75 273.70 Z" fill="#a8483a"/>
<line x1="291.77" y1="269.30" x2="291.77" y2="277.30" stroke="#f0a090" stroke-width="0.5" />
<line x1="290.27" y1="269.30" x2="293.27" y2="269.30" stroke="#f0a090" stroke-width="0.55" />
<line x1="290.27" y1="277.30" x2="293.27" y2="277.30" stroke="#f0a090" stroke-width="0.55" />
<path d="M290.07 274.60 L293.47 274.60 L291.77 271.60 Z" fill="#a8483a"/>
<line x1="306.48" y1="268.60" x2="306.48" y2="276.60" stroke="#f0a090" stroke-width="0.5" />
<line x1="304.98" y1="268.60" x2="307.98" y2="268.60" stroke="#f0a090" stroke-width="0.55" />
<line x1="304.98" y1="276.60" x2="307.98" y2="276.60" stroke="#f0a090" stroke-width="0.55" />
<path d="M304.78 273.90 L308.18 273.90 L306.48 270.90 Z" fill="#a8483a"/>
<line x1="317.50" y1="268.40" x2="317.50" y2="276.40" stroke="#f0a090" stroke-width="0.5" />
<line x1="316.00" y1="268.40" x2="319.00" y2="268.40" stroke="#f0a090" stroke-width="0.55" />
<line x1="316.00" y1="276.40" x2="319.00" y2="276.40" stroke="#f0a090" stroke-width="0.55" />
<path d="M315.80 273.70 L319.20 273.70 L317.50 270.70 Z" fill="#a8483a"/>
<line x1="332.20" y1="268.20" x2="332.20" y2="276.20" stroke="#f0a090" stroke-width="0.5" />
<line x1="330.70" y1="268.20" x2="333.70" y2="268.20" stroke="#f0a090" stroke-width="0.55" />
<line x1="330.70" y1="276.20" x2="333.70" y2="276.20" stroke="#f0a090" stroke-width="0.55" />
<path d="M330.50 273.50 L333.90 273.50 L332.20 270.50 Z" fill="#a8483a"/>
<polyline points="214.60,276.70 229.30,278.40 244.00,279.00 258.70,279.00 266.05,279.00 280.75,279.00 291.77,278.60 306.48,278.10 317.50,278.10 332.20,278.50" fill="none" stroke="#6a88b8" stroke-width="0.6"/>
<rect x="213.15" y="275.25" width="2.90" height="2.90" fill="#30486e" />
<rect x="227.85" y="276.95" width="2.90" height="2.90" fill="#30486e" />
<line x1="244.00" y1="278.00" x2="244.00" y2="280.00" stroke="#90a8cc" stroke-width="0.5" />
<line x1="242.50" y1="278.00" x2="245.50" y2="278.00" stroke="#90a8cc" stroke-width="0.55" />
<line x1="242.50" y1="280.00" x2="245.50" y2="280.00" stroke="#90a8cc" stroke-width="0.55" />
<rect x="242.55" y="277.55" width="2.90" height="2.90" fill="#30486e" />
<line x1="258.70" y1="278.00" x2="258.70" y2="280.00" stroke="#90a8cc" stroke-width="0.5" />
<line x1="257.20" y1="278.00" x2="260.20" y2="278.00" stroke="#90a8cc" stroke-width="0.55" />
<line x1="257.20" y1="280.00" x2="260.20" y2="280.00" stroke="#90a8cc" stroke-width="0.55" />
<rect x="257.25" y="277.55" width="2.90" height="2.90" fill="#30486e" />
<line x1="266.05" y1="278.00" x2="266.05" y2="280.00" stroke="#90a8cc" stroke-width="0.5" />
<line x1="264.55" y1="278.00" x2="267.55" y2="278.00" stroke="#90a8cc" stroke-width="0.55" />
<line x1="264.55" y1="280.00" x2="267.55" y2="280.00" stroke="#90a8cc" stroke-width="0.55" />
<rect x="264.60" y="277.55" width="2.90" height="2.90" fill="#30486e" />
<line x1="280.75" y1="278.00" x2="280.75" y2="280.00" stroke="#90a8cc" stroke-width="0.5" />
<line x1="279.25" y1="278.00" x2="282.25" y2="278.00" stroke="#90a8cc" stroke-width="0.55" />
<line x1="279.25" y1="280.00" x2="282.25" y2="280.00" stroke="#90a8cc" stroke-width="0.55" />
<rect x="279.30" y="277.55" width="2.90" height="2.90" fill="#30486e" />
<line x1="291.77" y1="277.60" x2="291.77" y2="279.60" stroke="#90a8cc" stroke-width="0.5" />
<line x1="290.27" y1="277.60" x2="293.27" y2="277.60" stroke="#90a8cc" stroke-width="0.55" />
<line x1="290.27" y1="279.60" x2="293.27" y2="279.60" stroke="#90a8cc" stroke-width="0.55" />
<rect x="290.32" y="277.15" width="2.90" height="2.90" fill="#30486e" />
<line x1="306.48" y1="277.10" x2="306.48" y2="279.10" stroke="#90a8cc" stroke-width="0.5" />
<line x1="304.98" y1="277.10" x2="307.98" y2="277.10" stroke="#90a8cc" stroke-width="0.55" />
<line x1="304.98" y1="279.10" x2="307.98" y2="279.10" stroke="#90a8cc" stroke-width="0.55" />
<rect x="305.03" y="276.65" width="2.90" height="2.90" fill="#30486e" />
<line x1="317.50" y1="277.10" x2="317.50" y2="279.10" stroke="#90a8cc" stroke-width="0.5" />
<line x1="316.00" y1="277.10" x2="319.00" y2="277.10" stroke="#90a8cc" stroke-width="0.55" />
<line x1="316.00" y1="279.10" x2="319.00" y2="279.10" stroke="#90a8cc" stroke-width="0.55" />
<rect x="316.05" y="276.65" width="2.90" height="2.90" fill="#30486e" />
<line x1="332.20" y1="277.50" x2="332.20" y2="279.50" stroke="#90a8cc" stroke-width="0.5" />
<line x1="330.70" y1="277.50" x2="333.70" y2="277.50" stroke="#90a8cc" stroke-width="0.55" />
<line x1="330.70" y1="279.50" x2="333.70" y2="279.50" stroke="#90a8cc" stroke-width="0.55" />
<rect x="330.75" y="277.05" width="2.90" height="2.90" fill="#30486e" />
<polyline points="214.60,276.70 229.30,274.10 244.00,268.40 258.70,265.50 266.05,262.40 280.75,254.00 291.77,244.90 306.48,240.70 317.50,232.30 332.20,218.70" fill="none" stroke="#333" stroke-width="0.6"/>
<circle cx="214.60" cy="276.70" r="1.75" fill="#111"/>
<line x1="229.30" y1="272.40" x2="229.30" y2="275.80" stroke="#555" stroke-width="0.5" />
<line x1="227.80" y1="272.40" x2="230.80" y2="272.40" stroke="#555" stroke-width="0.55" />
<line x1="227.80" y1="275.80" x2="230.80" y2="275.80" stroke="#555" stroke-width="0.55" />
<circle cx="229.30" cy="274.10" r="1.75" fill="#111"/>
<line x1="244.00" y1="263.70" x2="244.00" y2="273.10" stroke="#555" stroke-width="0.5" />
<line x1="242.50" y1="263.70" x2="245.50" y2="263.70" stroke="#555" stroke-width="0.55" />
<line x1="242.50" y1="273.10" x2="245.50" y2="273.10" stroke="#555" stroke-width="0.55" />
<circle cx="244.00" cy="268.40" r="1.75" fill="#111"/>
<line x1="258.70" y1="261.50" x2="258.70" y2="269.50" stroke="#555" stroke-width="0.5" />
<line x1="257.20" y1="261.50" x2="260.20" y2="261.50" stroke="#555" stroke-width="0.55" />
<line x1="257.20" y1="269.50" x2="260.20" y2="269.50" stroke="#555" stroke-width="0.55" />
<circle cx="258.70" cy="265.50" r="1.75" fill="#111"/>
<line x1="266.05" y1="258.70" x2="266.05" y2="266.10" stroke="#555" stroke-width="0.5" />
<line x1="264.55" y1="258.70" x2="267.55" y2="258.70" stroke="#555" stroke-width="0.55" />
<line x1="264.55" y1="266.10" x2="267.55" y2="266.10" stroke="#555" stroke-width="0.55" />
<circle cx="266.05" cy="262.40" r="1.75" fill="#111"/>
<line x1="280.75" y1="250.00" x2="280.75" y2="258.00" stroke="#555" stroke-width="0.5" />
<line x1="279.25" y1="250.00" x2="282.25" y2="250.00" stroke="#555" stroke-width="0.55" />
<line x1="279.25" y1="258.00" x2="282.25" y2="258.00" stroke="#555" stroke-width="0.55" />
<circle cx="280.75" cy="254.00" r="1.75" fill="#111"/>
<line x1="291.77" y1="239.40" x2="291.77" y2="250.40" stroke="#555" stroke-width="0.5" />
<line x1="290.27" y1="239.40" x2="293.27" y2="239.40" stroke="#555" stroke-width="0.55" />
<line x1="290.27" y1="250.40" x2="293.27" y2="250.40" stroke="#555" stroke-width="0.55" />
<circle cx="291.77" cy="244.90" r="1.75" fill="#111"/>
<line x1="306.48" y1="232.30" x2="306.48" y2="249.10" stroke="#555" stroke-width="0.5" />
<line x1="304.98" y1="232.30" x2="307.98" y2="232.30" stroke="#555" stroke-width="0.55" />
<line x1="304.98" y1="249.10" x2="307.98" y2="249.10" stroke="#555" stroke-width="0.55" />
<circle cx="306.48" cy="240.70" r="1.75" fill="#111"/>
<line x1="317.50" y1="225.30" x2="317.50" y2="239.30" stroke="#555" stroke-width="0.5" />
<line x1="316.00" y1="225.30" x2="319.00" y2="225.30" stroke="#555" stroke-width="0.55" />
<line x1="316.00" y1="239.30" x2="319.00" y2="239.30" stroke="#555" stroke-width="0.55" />
<circle cx="317.50" cy="232.30" r="1.75" fill="#111"/>
<line x1="332.20" y1="209.00" x2="332.20" y2="228.40" stroke="#555" stroke-width="0.5" />
<line x1="330.70" y1="209.00" x2="333.70" y2="209.00" stroke="#555" stroke-width="0.55" />
<line x1="330.70" y1="228.40" x2="333.70" y2="228.40" stroke="#555" stroke-width="0.55" />
<circle cx="332.20" cy="218.70" r="1.75" fill="#111"/>
<text x="445.50" y="179.90" font-size="7.6" text-anchor="middle" font-weight="normal" fill="#111" stroke="#111" stroke-width="0.36" >ST2652 efficacy</text>
<text x="445.50" y="188.90" font-size="7.6" text-anchor="middle" font-weight="normal" fill="#111" stroke="#111" stroke-width="0.36" >HNSCC: PI3Kα (E545K)</text>
<line x1="392.10" y1="197.20" x2="400.30" y2="197.20" stroke="#444" stroke-width="0.7" />
<circle cx="396.60" cy="197.20" r="1.25" fill="#111"/>
<text x="403.90" y="199.90" font-size="7.6" text-anchor="start" font-weight="normal" fill="#111" stroke="#111" stroke-width="0.36" >Vehicle</text>
<line x1="392.10" y1="205.95" x2="400.30" y2="205.95" stroke="#97acd0" stroke-width="0.7" />
<rect x="395.55" y="204.90" width="2.10" height="2.10" fill="#3d5f95" />
<text x="403.90" y="208.65" font-size="7.6" text-anchor="start" font-weight="normal" fill="#111" stroke="#111" stroke-width="0.36" >Alpelisib 50 mg/kg p.o. q.d.</text>
<line x1="392.10" y1="214.70" x2="400.30" y2="214.70" stroke="#f2a898" stroke-width="0.7" />
<path d="M395.35 215.70 L397.85 215.70 L396.60 213.45 Z" fill="#d05a48"/>
<text x="403.90" y="217.40" font-size="7.6" text-anchor="start" font-weight="normal" fill="#111" stroke="#111" stroke-width="0.36" >STX-478 100 mg/kg p.o. q.d.</text>
<line x1="385.80" y1="204.60" x2="385.80" y2="284.30" stroke="#1a1a1a" stroke-width="1.1" />
<line x1="382.60" y1="205.00" x2="385.80" y2="205.00" stroke="#222" stroke-width="1.0" />
<text x="379.50" y="207.75" font-size="7.6" text-anchor="end" font-weight="normal" fill="#111" stroke="#111" stroke-width="0.36" >3,000</text>
<line x1="382.60" y1="231.20" x2="385.80" y2="231.20" stroke="#222" stroke-width="1.0" />
<text x="379.50" y="233.95" font-size="7.6" text-anchor="end" font-weight="normal" fill="#111" stroke="#111" stroke-width="0.36" >2,000</text>
<line x1="382.60" y1="257.45" x2="385.80" y2="257.45" stroke="#222" stroke-width="1.0" />
<text x="379.50" y="260.20" font-size="7.6" text-anchor="end" font-weight="normal" fill="#111" stroke="#111" stroke-width="0.36" >1,000</text>
<line x1="382.60" y1="283.70" x2="385.80" y2="283.70" stroke="#222" stroke-width="1.0" />
<text x="379.50" y="286.45" font-size="7.6" text-anchor="end" font-weight="normal" fill="#111" stroke="#111" stroke-width="0.36" >0</text>
<line x1="385.30" y1="283.80" x2="504.60" y2="283.80" stroke="#1a1a1a" stroke-width="1.25" />
<line x1="386.20" y1="283.80" x2="386.20" y2="286.20" stroke="#222" stroke-width="1.0" />
<text x="386.20" y="295.00" font-size="7.6" text-anchor="middle" font-weight="normal" fill="#111" stroke="#111" stroke-width="0.36" >0</text>
<line x1="409.70" y1="283.80" x2="409.70" y2="286.20" stroke="#222" stroke-width="1.0" />
<text x="409.70" y="295.00" font-size="7.6" text-anchor="middle" font-weight="normal" fill="#111" stroke="#111" stroke-width="0.36" >9</text>
<line x1="433.20" y1="283.80" x2="433.20" y2="286.20" stroke="#222" stroke-width="1.0" />
<text x="433.20" y="295.00" font-size="7.6" text-anchor="middle" font-weight="normal" fill="#111" stroke="#111" stroke-width="0.36" >18</text>
<line x1="456.70" y1="283.80" x2="456.70" y2="286.20" stroke="#222" stroke-width="1.0" />
<text x="456.70" y="295.00" font-size="7.6" text-anchor="middle" font-weight="normal" fill="#111" stroke="#111" stroke-width="0.36" >27</text>
<line x1="480.20" y1="283.80" x2="480.20" y2="286.20" stroke="#222" stroke-width="1.0" />
<text x="480.20" y="295.00" font-size="7.6" text-anchor="middle" font-weight="normal" fill="#111" stroke="#111" stroke-width="0.36" >36</text>
<line x1="503.70" y1="283.80" x2="503.70" y2="286.20" stroke="#222" stroke-width="1.0" />
<text x="503.70" y="295.00" font-size="7.6" text-anchor="middle" font-weight="normal" fill="#111" stroke="#111" stroke-width="0.36" >45</text>
<text x="445.00" y="306.50" font-size="7.6" text-anchor="middle" font-weight="normal" fill="#111" stroke="#111" stroke-width="0.36" >Study day</text>
<text x="0.00" y="0.00" font-size="7.7" text-anchor="middle" font-weight="normal" fill="#111" stroke="#111" stroke-width="0.36" transform="translate(353.30 243.6) rotate(-90)">Tumor volume (mm<tspan font-size="5.4" dy="-2.7">3</tspan><tspan dy="2.7">)</tspan></text>
<polyline points="386.20,277.50 394.03,276.30 404.47,277.00 412.30,277.50 422.74,277.00 430.57,276.80 441.01,275.00 448.84,274.00 459.28,272.00 467.11,270.80 477.55,268.30 485.38,267.00 495.82,266.30 503.65,263.80" fill="none" stroke="#ec8068" stroke-width="0.6"/>
<path d="M384.50 278.80 L387.90 278.80 L386.20 275.80 Z" fill="#a8483a"/>
<path d="M392.33 277.60 L395.73 277.60 L394.03 274.60 Z" fill="#a8483a"/>
<path d="M402.77 278.30 L406.17 278.30 L404.47 275.30 Z" fill="#a8483a"/>
<path d="M410.60 278.80 L414.00 278.80 L412.30 275.80 Z" fill="#a8483a"/>
<path d="M421.04 278.30 L424.44 278.30 L422.74 275.30 Z" fill="#a8483a"/>
<line x1="430.57" y1="275.80" x2="430.57" y2="277.80" stroke="#f0a090" stroke-width="0.5" />
<line x1="429.07" y1="275.80" x2="432.07" y2="275.80" stroke="#f0a090" stroke-width="0.55" />
<line x1="429.07" y1="277.80" x2="432.07" y2="277.80" stroke="#f0a090" stroke-width="0.55" />
<path d="M428.87 278.10 L432.27 278.10 L430.57 275.10 Z" fill="#a8483a"/>
<line x1="441.01" y1="273.50" x2="441.01" y2="276.50" stroke="#f0a090" stroke-width="0.5" />
<line x1="439.51" y1="273.50" x2="442.51" y2="273.50" stroke="#f0a090" stroke-width="0.55" />
<line x1="439.51" y1="276.50" x2="442.51" y2="276.50" stroke="#f0a090" stroke-width="0.55" />
<path d="M439.31 276.30 L442.71 276.30 L441.01 273.30 Z" fill="#a8483a"/>
<line x1="448.84" y1="272.00" x2="448.84" y2="276.00" stroke="#f0a090" stroke-width="0.5" />
<line x1="447.34" y1="272.00" x2="450.34" y2="272.00" stroke="#f0a090" stroke-width="0.55" />
<line x1="447.34" y1="276.00" x2="450.34" y2="276.00" stroke="#f0a090" stroke-width="0.55" />
<path d="M447.14 275.30 L450.54 275.30 L448.84 272.30 Z" fill="#a8483a"/>
<line x1="459.28" y1="269.00" x2="459.28" y2="275.00" stroke="#f0a090" stroke-width="0.5" />
<line x1="457.78" y1="269.00" x2="460.78" y2="269.00" stroke="#f0a090" stroke-width="0.55" />
<line x1="457.78" y1="275.00" x2="460.78" y2="275.00" stroke="#f0a090" stroke-width="0.55" />
<path d="M457.58 273.30 L460.98 273.30 L459.28 270.30 Z" fill="#a8483a"/>
<line x1="467.11" y1="267.80" x2="467.11" y2="273.80" stroke="#f0a090" stroke-width="0.5" />
<line x1="465.61" y1="267.80" x2="468.61" y2="267.80" stroke="#f0a090" stroke-width="0.55" />
<line x1="465.61" y1="273.80" x2="468.61" y2="273.80" stroke="#f0a090" stroke-width="0.55" />
<path d="M465.41 272.10 L468.81 272.10 L467.11 269.10 Z" fill="#a8483a"/>
<line x1="477.55" y1="264.30" x2="477.55" y2="272.30" stroke="#f0a090" stroke-width="0.5" />
<line x1="476.05" y1="264.30" x2="479.05" y2="264.30" stroke="#f0a090" stroke-width="0.55" />
<line x1="476.05" y1="272.30" x2="479.05" y2="272.30" stroke="#f0a090" stroke-width="0.55" />
<path d="M475.85 269.60 L479.25 269.60 L477.55 266.60 Z" fill="#a8483a"/>
<line x1="485.38" y1="261.40" x2="485.38" y2="272.60" stroke="#f0a090" stroke-width="0.5" />
<line x1="483.88" y1="261.40" x2="486.88" y2="261.40" stroke="#f0a090" stroke-width="0.55" />
<line x1="483.88" y1="272.60" x2="486.88" y2="272.60" stroke="#f0a090" stroke-width="0.55" />
<path d="M483.68 268.30 L487.08 268.30 L485.38 265.30 Z" fill="#a8483a"/>
<line x1="495.82" y1="260.30" x2="495.82" y2="272.30" stroke="#f0a090" stroke-width="0.5" />
<line x1="494.32" y1="260.30" x2="497.32" y2="260.30" stroke="#f0a090" stroke-width="0.55" />
<line x1="494.32" y1="272.30" x2="497.32" y2="272.30" stroke="#f0a090" stroke-width="0.55" />
<path d="M494.12 267.60 L497.52 267.60 L495.82 264.60 Z" fill="#a8483a"/>
<line x1="503.65" y1="256.80" x2="503.65" y2="270.80" stroke="#f0a090" stroke-width="0.5" />
<line x1="502.15" y1="256.80" x2="505.15" y2="256.80" stroke="#f0a090" stroke-width="0.55" />
<line x1="502.15" y1="270.80" x2="505.15" y2="270.80" stroke="#f0a090" stroke-width="0.55" />
<path d="M501.95 265.10 L505.35 265.10 L503.65 262.10 Z" fill="#a8483a"/>
<polyline points="386.20,277.50 394.03,276.30 404.47,277.00 412.30,277.50 422.74,277.00 430.57,276.80 441.01,275.50 448.84,274.50 459.28,273.80 467.11,272.50 477.55,270.50 485.38,270.00 495.82,270.00 503.65,264.50" fill="none" stroke="#6a88b8" stroke-width="0.6"/>
<rect x="384.75" y="276.05" width="2.90" height="2.90" fill="#30486e" />
<rect x="392.58" y="274.85" width="2.90" height="2.90" fill="#30486e" />
<rect x="403.02" y="275.55" width="2.90" height="2.90" fill="#30486e" />
<rect x="410.85" y="276.05" width="2.90" height="2.90" fill="#30486e" />
<rect x="421.29" y="275.55" width="2.90" height="2.90" fill="#30486e" />
<rect x="429.12" y="275.35" width="2.90" height="2.90" fill="#30486e" />
<line x1="441.01" y1="274.50" x2="441.01" y2="276.50" stroke="#90a8cc" stroke-width="0.5" />
<line x1="439.51" y1="274.50" x2="442.51" y2="274.50" stroke="#90a8cc" stroke-width="0.55" />
<line x1="439.51" y1="276.50" x2="442.51" y2="276.50" stroke="#90a8cc" stroke-width="0.55" />
<rect x="439.56" y="274.05" width="2.90" height="2.90" fill="#30486e" />
<line x1="448.84" y1="273.50" x2="448.84" y2="275.50" stroke="#90a8cc" stroke-width="0.5" />
<line x1="447.34" y1="273.50" x2="450.34" y2="273.50" stroke="#90a8cc" stroke-width="0.55" />
<line x1="447.34" y1="275.50" x2="450.34" y2="275.50" stroke="#90a8cc" stroke-width="0.55" />
<rect x="447.39" y="273.05" width="2.90" height="2.90" fill="#30486e" />
<line x1="459.28" y1="272.30" x2="459.28" y2="275.30" stroke="#90a8cc" stroke-width="0.5" />
<line x1="457.78" y1="272.30" x2="460.78" y2="272.30" stroke="#90a8cc" stroke-width="0.55" />
<line x1="457.78" y1="275.30" x2="460.78" y2="275.30" stroke="#90a8cc" stroke-width="0.55" />
<rect x="457.83" y="272.35" width="2.90" height="2.90" fill="#30486e" />
<line x1="467.11" y1="271.00" x2="467.11" y2="274.00" stroke="#90a8cc" stroke-width="0.5" />
<line x1="465.61" y1="271.00" x2="468.61" y2="271.00" stroke="#90a8cc" stroke-width="0.55" />
<line x1="465.61" y1="274.00" x2="468.61" y2="274.00" stroke="#90a8cc" stroke-width="0.55" />
<rect x="465.66" y="271.05" width="2.90" height="2.90" fill="#30486e" />
<line x1="477.55" y1="268.50" x2="477.55" y2="272.50" stroke="#90a8cc" stroke-width="0.5" />
<line x1="476.05" y1="268.50" x2="479.05" y2="268.50" stroke="#90a8cc" stroke-width="0.55" />
<line x1="476.05" y1="272.50" x2="479.05" y2="272.50" stroke="#90a8cc" stroke-width="0.55" />
<rect x="476.10" y="269.05" width="2.90" height="2.90" fill="#30486e" />
<line x1="485.38" y1="268.00" x2="485.38" y2="272.00" stroke="#90a8cc" stroke-width="0.5" />
<line x1="483.88" y1="268.00" x2="486.88" y2="268.00" stroke="#90a8cc" stroke-width="0.55" />
<line x1="483.88" y1="272.00" x2="486.88" y2="272.00" stroke="#90a8cc" stroke-width="0.55" />
<rect x="483.93" y="268.55" width="2.90" height="2.90" fill="#30486e" />
<line x1="495.82" y1="268.00" x2="495.82" y2="272.00" stroke="#90a8cc" stroke-width="0.5" />
<line x1="494.32" y1="268.00" x2="497.32" y2="268.00" stroke="#90a8cc" stroke-width="0.55" />
<line x1="494.32" y1="272.00" x2="497.32" y2="272.00" stroke="#90a8cc" stroke-width="0.55" />
<rect x="494.37" y="268.55" width="2.90" height="2.90" fill="#30486e" />
<line x1="503.65" y1="262.00" x2="503.65" y2="267.00" stroke="#90a8cc" stroke-width="0.5" />
<line x1="502.15" y1="262.00" x2="505.15" y2="262.00" stroke="#90a8cc" stroke-width="0.55" />
<line x1="502.15" y1="267.00" x2="505.15" y2="267.00" stroke="#90a8cc" stroke-width="0.55" />
<rect x="502.20" y="263.05" width="2.90" height="2.90" fill="#30486e" />
<polyline points="386.20,277.90 394.03,276.80 404.47,275.20 412.30,274.40 422.74,271.60 430.57,268.60 441.01,264.20 448.84,261.50 459.28,255.00 467.11,250.00 477.55,246.30 485.38,240.50 495.82,234.30 503.65,228.00" fill="none" stroke="#333" stroke-width="0.6"/>
<circle cx="386.20" cy="277.90" r="1.75" fill="#111"/>
<circle cx="394.03" cy="276.80" r="1.75" fill="#111"/>
<line x1="404.47" y1="274.20" x2="404.47" y2="276.20" stroke="#555" stroke-width="0.5" />
<line x1="402.97" y1="274.20" x2="405.97" y2="274.20" stroke="#555" stroke-width="0.55" />
<line x1="402.97" y1="276.20" x2="405.97" y2="276.20" stroke="#555" stroke-width="0.55" />
<circle cx="404.47" cy="275.20" r="1.75" fill="#111"/>
<line x1="412.30" y1="273.40" x2="412.30" y2="275.40" stroke="#555" stroke-width="0.5" />
<line x1="410.80" y1="273.40" x2="413.80" y2="273.40" stroke="#555" stroke-width="0.55" />
<line x1="410.80" y1="275.40" x2="413.80" y2="275.40" stroke="#555" stroke-width="0.55" />
<circle cx="412.30" cy="274.40" r="1.75" fill="#111"/>
<line x1="422.74" y1="270.60" x2="422.74" y2="272.60" stroke="#555" stroke-width="0.5" />
<line x1="421.24" y1="270.60" x2="424.24" y2="270.60" stroke="#555" stroke-width="0.55" />
<line x1="421.24" y1="272.60" x2="424.24" y2="272.60" stroke="#555" stroke-width="0.55" />
<circle cx="422.74" cy="271.60" r="1.75" fill="#111"/>
<line x1="430.57" y1="267.60" x2="430.57" y2="269.60" stroke="#555" stroke-width="0.5" />
<line x1="429.07" y1="267.60" x2="432.07" y2="267.60" stroke="#555" stroke-width="0.55" />
<line x1="429.07" y1="269.60" x2="432.07" y2="269.60" stroke="#555" stroke-width="0.55" />
<circle cx="430.57" cy="268.60" r="1.75" fill="#111"/>
<line x1="441.01" y1="262.70" x2="441.01" y2="265.70" stroke="#555" stroke-width="0.5" />
<line x1="439.51" y1="262.70" x2="442.51" y2="262.70" stroke="#555" stroke-width="0.55" />
<line x1="439.51" y1="265.70" x2="442.51" y2="265.70" stroke="#555" stroke-width="0.55" />
<circle cx="441.01" cy="264.20" r="1.75" fill="#111"/>
<line x1="448.84" y1="259.50" x2="448.84" y2="263.50" stroke="#555" stroke-width="0.5" />
<line x1="447.34" y1="259.50" x2="450.34" y2="259.50" stroke="#555" stroke-width="0.55" />
<line x1="447.34" y1="263.50" x2="450.34" y2="263.50" stroke="#555" stroke-width="0.55" />
<circle cx="448.84" cy="261.50" r="1.75" fill="#111"/>
<line x1="459.28" y1="251.30" x2="459.28" y2="258.70" stroke="#555" stroke-width="0.5" />
<line x1="457.78" y1="251.30" x2="460.78" y2="251.30" stroke="#555" stroke-width="0.55" />
<line x1="457.78" y1="258.70" x2="460.78" y2="258.70" stroke="#555" stroke-width="0.55" />
<circle cx="459.28" cy="255.00" r="1.75" fill="#111"/>
<line x1="467.11" y1="246.00" x2="467.11" y2="254.00" stroke="#555" stroke-width="0.5" />
<line x1="465.61" y1="246.00" x2="468.61" y2="246.00" stroke="#555" stroke-width="0.55" />
<line x1="465.61" y1="254.00" x2="468.61" y2="254.00" stroke="#555" stroke-width="0.55" />
<circle cx="467.11" cy="250.00" r="1.75" fill="#111"/>
<line x1="477.55" y1="241.30" x2="477.55" y2="251.30" stroke="#555" stroke-width="0.5" />
<line x1="476.05" y1="241.30" x2="479.05" y2="241.30" stroke="#555" stroke-width="0.55" />
<line x1="476.05" y1="251.30" x2="479.05" y2="251.30" stroke="#555" stroke-width="0.55" />
<circle cx="477.55" cy="246.30" r="1.75" fill="#111"/>
<line x1="485.38" y1="233.50" x2="485.38" y2="247.50" stroke="#555" stroke-width="0.5" />
<line x1="483.88" y1="233.50" x2="486.88" y2="233.50" stroke="#555" stroke-width="0.55" />
<line x1="483.88" y1="247.50" x2="486.88" y2="247.50" stroke="#555" stroke-width="0.55" />
<circle cx="485.38" cy="240.50" r="1.75" fill="#111"/>
<line x1="495.82" y1="222.30" x2="495.82" y2="246.30" stroke="#555" stroke-width="0.5" />
<line x1="494.32" y1="222.30" x2="497.32" y2="222.30" stroke="#555" stroke-width="0.55" />
<line x1="494.32" y1="246.30" x2="497.32" y2="246.30" stroke="#555" stroke-width="0.55" />
<circle cx="495.82" cy="234.30" r="1.75" fill="#111"/>
<line x1="503.65" y1="218.60" x2="503.65" y2="237.40" stroke="#555" stroke-width="0.5" />
<line x1="502.15" y1="218.60" x2="505.15" y2="218.60" stroke="#555" stroke-width="0.55" />
<line x1="502.15" y1="237.40" x2="505.15" y2="237.40" stroke="#555" stroke-width="0.55" />
<circle cx="503.65" cy="228.00" r="1.75" fill="#111"/>
<defs><filter id="bl" x="-20%" y="-150%" width="140%" height="400%"><feGaussianBlur stdDeviation="0.5"/></filter></defs>
<text x="45.30" y="328.90" font-size="7.7" text-anchor="middle" font-weight="normal" fill="#111" stroke="#111" stroke-width="0.36" >Vehicle</text>
<text x="88.80" y="328.90" font-size="7.7" text-anchor="middle" font-weight="normal" fill="#111" stroke="#111" stroke-width="0.36" >Alpelisib</text>
<text x="130.60" y="328.90" font-size="7.7" text-anchor="middle" font-weight="normal" fill="#111" stroke="#111" stroke-width="0.36" >STX-478</text>
<line x1="67.80" y1="312.00" x2="67.80" y2="332.00" stroke="#e8e8e8" stroke-width="0.7" />
<line x1="107.20" y1="312.00" x2="107.20" y2="332.00" stroke="#e8e8e8" stroke-width="0.7" />
<rect x="21.20" y="332.70" width="129.00" height="14.00" fill="#e2e2e2" stroke="#8f8f8f" stroke-width="0.8"/>
<rect x="21.80" y="333.30" width="127.80" height="1.60" fill="#ececec" />
<rect x="21.20" y="348.90" width="129.00" height="14.20" fill="#e2e2e2" stroke="#8f8f8f" stroke-width="0.8"/>
<rect x="21.80" y="349.50" width="127.80" height="1.60" fill="#ececec" />
<rect x="21.20" y="365.00" width="129.00" height="18.00" fill="#e2e2e2" stroke="#8f8f8f" stroke-width="0.8"/>
<rect x="21.80" y="365.60" width="127.80" height="1.60" fill="#ececec" />
<line x1="67.80" y1="333.20" x2="67.80" y2="346.20" stroke="#d6d6d6" stroke-width="0.6" />
<line x1="67.80" y1="349.40" x2="67.80" y2="362.60" stroke="#d6d6d6" stroke-width="0.6" />
<line x1="67.80" y1="365.50" x2="67.80" y2="380.50" stroke="#d6d6d6" stroke-width="0.6" />
<line x1="107.20" y1="333.20" x2="107.20" y2="346.20" stroke="#d6d6d6" stroke-width="0.6" />
<line x1="107.20" y1="349.40" x2="107.20" y2="362.60" stroke="#d6d6d6" stroke-width="0.6" />
<line x1="107.20" y1="365.50" x2="107.20" y2="380.50" stroke="#d6d6d6" stroke-width="0.6" />
<path d="M23.10 338.95 Q23.10 338.20 24.30 338.20 L35.60 338.20 Q36.80 338.20 36.80 338.95 L36.80 340.60 Q29.95 341.80 23.10 340.60 Z" fill="#000" fill-opacity="1.00" filter="url(#bl)"/>
<path d="M40.20 339.65 Q40.20 339.00 41.40 339.00 L50.40 339.00 Q51.60 339.00 51.60 339.65 L51.60 341.08 Q45.90 342.12 40.20 341.08 Z" fill="#000" fill-opacity="0.90" filter="url(#bl)"/>
<path d="M55.00 339.65 Q55.00 339.20 56.20 339.20 L64.60 339.20 Q65.80 339.20 65.80 339.65 L65.80 340.64 Q60.40 341.36 55.00 340.64 Z" fill="#000" fill-opacity="0.60" filter="url(#bl)"/>
<path d="M69.80 339.85 Q69.80 339.50 71.00 339.50 L77.00 339.50 Q78.20 339.50 78.20 339.85 L78.20 340.62 Q74.00 341.18 69.80 340.62 Z" fill="#000" fill-opacity="0.09" filter="url(#bl)"/>
<path d="M83.30 339.85 Q83.30 339.50 84.50 339.50 L93.60 339.50 Q94.80 339.50 94.80 339.85 L94.80 340.62 Q89.05 341.18 83.30 340.62 Z" fill="#000" fill-opacity="0.08" filter="url(#bl)"/>
<path d="M95.50 339.82 Q95.50 339.45 96.70 339.45 L106.40 339.45 Q107.60 339.45 107.60 339.82 L107.60 340.65 Q101.55 341.25 95.50 340.65 Z" fill="#000" fill-opacity="0.06" filter="url(#bl)"/>
<path d="M110.00 339.88 Q110.00 339.55 111.20 339.55 L120.80 339.55 Q122.00 339.55 122.00 339.88 L122.00 340.59 Q116.00 341.11 110.00 340.59 Z" fill="#000" fill-opacity="0.04" filter="url(#bl)"/>
<path d="M124.00 339.88 Q124.00 339.55 125.20 339.55 L134.80 339.55 Q136.00 339.55 136.00 339.88 L136.00 340.59 Q130.00 341.11 124.00 340.59 Z" fill="#000" fill-opacity="0.04" filter="url(#bl)"/>
<path d="M138.00 339.68 Q138.00 339.35 139.20 339.35 L147.80 339.35 Q149.00 339.35 149.00 339.68 L149.00 340.39 Q143.50 340.91 138.00 340.39 Z" fill="#000" fill-opacity="0.03" filter="url(#bl)"/>
<path d="M23.10 353.95 Q23.10 353.20 24.30 353.20 L37.00 353.20 Q38.20 353.20 38.20 353.95 L38.20 355.60 Q30.65 356.80 23.10 355.60 Z" fill="#000" fill-opacity="1.00" filter="url(#bl)"/>
<path d="M40.20 354.60 Q40.20 354.00 41.40 354.00 L52.10 354.00 Q53.30 354.00 53.30 354.60 L53.30 355.92 Q46.75 356.88 40.20 355.92 Z" fill="#000" fill-opacity="0.85" filter="url(#bl)"/>
<path d="M56.40 354.90 Q56.40 354.40 57.60 354.40 L66.90 354.40 Q68.10 354.40 68.10 354.90 L68.10 356.00 Q62.25 356.80 56.40 356.00 Z" fill="#000" fill-opacity="0.50" filter="url(#bl)"/>
<path d="M70.80 354.85 Q70.80 354.30 72.00 354.30 L80.10 354.30 Q81.30 354.30 81.30 354.85 L81.30 356.06 Q76.05 356.94 70.80 356.06 Z" fill="#000" fill-opacity="0.80" filter="url(#bl)"/>
<path d="M84.70 355.15 Q84.70 354.60 85.90 354.60 L94.30 354.60 Q95.50 354.60 95.50 355.15 L95.50 356.36 Q90.10 357.24 84.70 356.36 Z" fill="#000" fill-opacity="0.75" filter="url(#bl)"/>
<path d="M98.20 355.55 Q98.20 355.00 99.40 355.00 L108.40 355.00 Q109.60 355.00 109.60 355.55 L109.60 356.76 Q103.90 357.64 98.20 356.76 Z" fill="#000" fill-opacity="0.45" filter="url(#bl)"/>
<path d="M111.60 355.10 Q111.60 354.50 112.80 354.50 L121.80 354.50 Q123.00 354.50 123.00 355.10 L123.00 356.42 Q117.30 357.38 111.60 356.42 Z" fill="#000" fill-opacity="0.80" filter="url(#bl)"/>
<path d="M125.10 354.75 Q125.10 354.10 126.30 354.10 L136.00 354.10 Q137.20 354.10 137.20 354.75 L137.20 356.18 Q131.15 357.22 125.10 356.18 Z" fill="#000" fill-opacity="0.95" filter="url(#bl)"/>
<path d="M138.50 354.55 Q138.50 353.90 139.70 353.90 L148.80 353.90 Q150.00 353.90 150.00 354.55 L150.00 355.98 Q144.25 357.02 138.50 355.98 Z" fill="#000" fill-opacity="1.00" filter="url(#bl)"/>
<path d="M23.10 373.30 Q23.10 372.80 24.30 372.80 L34.60 372.80 Q35.80 372.80 35.80 373.30 L35.80 374.40 Q29.45 375.20 23.10 374.40 Z" fill="#000" fill-opacity="0.95" filter="url(#bl)"/>
<path d="M38.90 373.30 Q38.90 372.80 40.10 372.80 L49.80 372.80 Q51.00 372.80 51.00 373.30 L51.00 374.40 Q44.95 375.20 38.90 374.40 Z" fill="#000" fill-opacity="0.95" filter="url(#bl)"/>
<path d="M53.70 373.35 Q53.70 372.90 54.90 372.90 L63.90 372.90 Q65.10 372.90 65.10 373.35 L65.10 374.34 Q59.40 375.06 53.70 374.34 Z" fill="#000" fill-opacity="0.90" filter="url(#bl)"/>
<path d="M68.10 373.35 Q68.10 372.90 69.30 372.90 L78.00 372.90 Q79.20 372.90 79.20 373.35 L79.20 374.34 Q73.65 375.06 68.10 374.34 Z" fill="#000" fill-opacity="0.90" filter="url(#bl)"/>
<path d="M82.70 373.35 Q82.70 372.90 83.90 372.90 L92.20 372.90 Q93.40 372.90 93.40 373.35 L93.40 374.34 Q88.05 375.06 82.70 374.34 Z" fill="#000" fill-opacity="0.90" filter="url(#bl)"/>
<path d="M96.10 373.35 Q96.10 372.90 97.30 372.90 L106.40 372.90 Q107.60 372.90 107.60 373.35 L107.60 374.34 Q101.85 375.06 96.10 374.34 Z" fill="#000" fill-opacity="0.90" filter="url(#bl)"/>
<path d="M110.30 373.35 Q110.30 372.90 111.50 372.90 L119.80 372.90 Q121.00 372.90 121.00 373.35 L121.00 374.34 Q115.65 375.06 110.30 374.34 Z" fill="#000" fill-opacity="0.90" filter="url(#bl)"/>
<path d="M124.80 373.35 Q124.80 372.90 126.00 372.90 L133.30 372.90 Q134.50 372.90 134.50 373.35 L134.50 374.34 Q129.65 375.06 124.80 374.34 Z" fill="#000" fill-opacity="0.90" filter="url(#bl)"/>
<path d="M137.90 373.35 Q137.90 372.90 139.10 372.90 L147.40 372.90 Q148.60 372.90 148.60 373.35 L148.60 374.34 Q143.25 375.06 137.90 374.34 Z" fill="#000" fill-opacity="0.90" filter="url(#bl)"/>
<text x="154.50" y="337.60" font-size="7.8" text-anchor="start" font-weight="normal" fill="#111" stroke="#111" stroke-width="0.36" >pAKT</text>
<text x="154.50" y="345.60" font-size="7.8" text-anchor="start" font-weight="normal" fill="#111" stroke="#111" stroke-width="0.36" >(S473)</text>
<text x="154.50" y="359.20" font-size="7.8" text-anchor="start" font-weight="normal" fill="#111" stroke="#111" stroke-width="0.36" >AKT</text>
<text x="154.50" y="376.90" font-size="7.8" text-anchor="start" font-weight="normal" fill="#111" stroke="#111" stroke-width="0.36" >Vinculin</text>
<text x="211.80" y="328.90" font-size="7.7" text-anchor="middle" font-weight="normal" fill="#111" stroke="#111" stroke-width="0.36" >Vehicle</text>
<text x="247.00" y="328.90" font-size="7.7" text-anchor="middle" font-weight="normal" fill="#111" stroke="#111" stroke-width="0.36" >Alpelisib</text>
<text x="288.80" y="328.90" font-size="7.7" text-anchor="middle" font-weight="normal" fill="#111" stroke="#111" stroke-width="0.36" >STX-478</text>
<line x1="226.30" y1="312.00" x2="226.30" y2="332.00" stroke="#e8e8e8" stroke-width="0.7" />
<line x1="267.80" y1="312.00" x2="267.80" y2="332.00" stroke="#e8e8e8" stroke-width="0.7" />
<rect x="196.30" y="332.30" width="113.10" height="14.00" fill="#e2e2e2" stroke="#8f8f8f" stroke-width="0.8"/>
<rect x="196.90" y="332.90" width="111.90" height="1.60" fill="#ececec" />
<rect x="196.30" y="348.50" width="113.10" height="14.60" fill="#e2e2e2" stroke="#8f8f8f" stroke-width="0.8"/>
<rect x="196.90" y="349.10" width="111.90" height="1.60" fill="#ececec" />
<rect x="196.30" y="365.20" width="113.10" height="17.80" fill="#e2e2e2" stroke="#8f8f8f" stroke-width="0.8"/>
<rect x="196.90" y="365.80" width="111.90" height="1.60" fill="#ececec" />
<line x1="226.30" y1="332.80" x2="226.30" y2="345.80" stroke="#d6d6d6" stroke-width="0.6" />
<line x1="226.30" y1="349.00" x2="226.30" y2="362.60" stroke="#d6d6d6" stroke-width="0.6" />
<line x1="226.30" y1="365.70" x2="226.30" y2="380.50" stroke="#d6d6d6" stroke-width="0.6" />
<line x1="267.80" y1="332.80" x2="267.80" y2="345.80" stroke="#d6d6d6" stroke-width="0.6" />
<line x1="267.80" y1="349.00" x2="267.80" y2="362.60" stroke="#d6d6d6" stroke-width="0.6" />
<line x1="267.80" y1="365.70" x2="267.80" y2="380.50" stroke="#d6d6d6" stroke-width="0.6" />
<path d="M198.70 339.25 Q198.70 338.70 199.90 338.70 L209.00 338.70 Q210.20 338.70 210.20 339.25 L210.20 340.46 Q204.45 341.34 198.70 340.46 Z" fill="#000" fill-opacity="0.95" filter="url(#bl)"/>
<path d="M213.80 339.55 Q213.80 339.00 215.00 339.00 L223.10 339.00 Q224.30 339.00 224.30 339.55 L224.30 340.76 Q219.05 341.64 213.80 340.76 Z" fill="#000" fill-opacity="0.95" filter="url(#bl)"/>
<path d="M296.40 339.48 Q296.40 339.15 297.60 339.15 L304.00 339.15 Q305.20 339.15 305.20 339.48 L305.20 340.19 Q300.80 340.71 296.40 340.19 Z" fill="#000" fill-opacity="0.15" filter="url(#bl)"/>
<path d="M198.00 353.82 Q198.00 352.95 199.20 352.95 L210.70 352.95 Q211.90 352.95 211.90 353.82 L211.90 355.75 Q204.95 357.15 198.00 355.75 Z" fill="#000" fill-opacity="1.00" filter="url(#bl)"/>
<path d="M214.20 353.95 Q214.20 353.20 215.40 353.20 L224.70 353.20 Q225.90 353.20 225.90 353.95 L225.90 355.60 Q220.05 356.80 214.20 355.60 Z" fill="#000" fill-opacity="1.00" filter="url(#bl)"/>
<path d="M228.60 354.55 Q228.60 353.90 229.80 353.90 L238.20 353.90 Q239.40 353.90 239.40 354.55 L239.40 355.98 Q234.00 357.02 228.60 355.98 Z" fill="#000" fill-opacity="0.95" filter="url(#bl)"/>
<path d="M241.80 354.75 Q241.80 354.10 243.00 354.10 L252.00 354.10 Q253.20 354.10 253.20 354.75 L253.20 356.18 Q247.50 357.22 241.80 356.18 Z" fill="#000" fill-opacity="0.95" filter="url(#bl)"/>
<path d="M256.10 354.60 Q256.10 354.00 257.30 354.00 L265.00 354.00 Q266.20 354.00 266.20 354.60 L266.20 355.92 Q261.15 356.88 256.10 355.92 Z" fill="#000" fill-opacity="0.90" filter="url(#bl)"/>
<path d="M269.90 354.55 Q269.90 353.90 271.10 353.90 L279.10 353.90 Q280.30 353.90 280.30 354.55 L280.30 355.98 Q275.10 357.02 269.90 355.98 Z" fill="#000" fill-opacity="0.95" filter="url(#bl)"/>
<path d="M283.00 354.50 Q283.00 353.80 284.20 353.80 L292.50 353.80 Q293.70 353.80 293.70 354.50 L293.70 356.04 Q288.35 357.16 283.00 356.04 Z" fill="#000" fill-opacity="0.95" filter="url(#bl)"/>
<path d="M296.80 354.50 Q296.80 353.80 298.00 353.80 L306.70 353.80 Q307.90 353.80 307.90 354.50 L307.90 356.04 Q302.35 357.16 296.80 356.04 Z" fill="#000" fill-opacity="0.95" filter="url(#bl)"/>
<path d="M198.00 371.52 Q198.00 371.15 199.20 371.15 L207.60 371.15 Q208.80 371.15 208.80 371.52 L208.80 372.35 Q203.40 372.95 198.00 372.35 Z" fill="#000" fill-opacity="0.80" filter="url(#bl)"/>
<path d="M213.50 371.52 Q213.50 371.15 214.70 371.15 L221.80 371.15 Q223.00 371.15 223.00 371.52 L223.00 372.35 Q218.25 372.95 213.50 372.35 Z" fill="#000" fill-opacity="0.80" filter="url(#bl)"/>
<path d="M227.00 371.62 Q227.00 371.25 228.20 371.25 L235.90 371.25 Q237.10 371.25 237.10 371.62 L237.10 372.45 Q232.05 373.05 227.00 372.45 Z" fill="#000" fill-opacity="0.80" filter="url(#bl)"/>
<path d="M241.80 371.62 Q241.80 371.25 243.00 371.25 L250.00 371.25 Q251.20 371.25 251.20 371.62 L251.20 372.45 Q246.50 373.05 241.80 372.45 Z" fill="#000" fill-opacity="0.80" filter="url(#bl)"/>
<path d="M256.10 371.73 Q256.10 371.35 257.30 371.35 L263.60 371.35 Q264.80 371.35 264.80 371.73 L264.80 372.55 Q260.45 373.15 256.10 372.55 Z" fill="#000" fill-opacity="0.80" filter="url(#bl)"/>
<path d="M269.90 371.73 Q269.90 371.35 271.10 371.35 L277.70 371.35 Q278.90 371.35 278.90 371.73 L278.90 372.55 Q274.40 373.15 269.90 372.55 Z" fill="#000" fill-opacity="0.80" filter="url(#bl)"/>
<path d="M283.60 371.73 Q283.60 371.35 284.80 371.35 L291.90 371.35 Q293.10 371.35 293.10 371.73 L293.10 372.55 Q288.35 373.15 283.60 372.55 Z" fill="#000" fill-opacity="0.80" filter="url(#bl)"/>
<path d="M297.80 371.73 Q297.80 371.35 299.00 371.35 L306.70 371.35 Q307.90 371.35 307.90 371.73 L307.90 372.55 Q302.85 373.15 297.80 372.55 Z" fill="#000" fill-opacity="0.85" filter="url(#bl)"/>
<text x="314.20" y="337.60" font-size="7.8" text-anchor="start" font-weight="normal" fill="#111" stroke="#111" stroke-width="0.36" >pAKT</text>
<text x="314.20" y="345.60" font-size="7.8" text-anchor="start" font-weight="normal" fill="#111" stroke="#111" stroke-width="0.36" >(S473)</text>
<text x="314.20" y="359.20" font-size="7.8" text-anchor="start" font-weight="normal" fill="#111" stroke="#111" stroke-width="0.36" >AKT</text>
<text x="314.20" y="376.90" font-size="7.8" text-anchor="start" font-weight="normal" fill="#111" stroke="#111" stroke-width="0.36" >Vinculin</text>
<text x="383.60" y="328.90" font-size="7.7" text-anchor="middle" font-weight="normal" fill="#111" stroke="#111" stroke-width="0.36" >Vehicle</text>
<text x="427.00" y="328.90" font-size="7.7" text-anchor="middle" font-weight="normal" fill="#111" stroke="#111" stroke-width="0.36" >Alpelisib</text>
<text x="468.60" y="328.90" font-size="7.7" text-anchor="middle" font-weight="normal" fill="#111" stroke="#111" stroke-width="0.36" >STX-478</text>
<line x1="407.00" y1="312.00" x2="407.00" y2="332.00" stroke="#e8e8e8" stroke-width="0.7" />
<line x1="447.60" y1="312.00" x2="447.60" y2="332.00" stroke="#e8e8e8" stroke-width="0.7" />
<rect x="359.90" y="332.70" width="130.00" height="14.70" fill="#e2e2e2" stroke="#8f8f8f" stroke-width="0.8"/>
<rect x="360.50" y="333.30" width="128.80" height="1.60" fill="#ececec" />
<rect x="359.90" y="349.30" width="130.00" height="13.90" fill="#e2e2e2" stroke="#8f8f8f" stroke-width="0.8"/>
<rect x="360.50" y="349.90" width="128.80" height="1.60" fill="#ececec" />
<rect x="359.90" y="365.20" width="130.00" height="17.80" fill="#e2e2e2" stroke="#8f8f8f" stroke-width="0.8"/>
<rect x="360.50" y="365.80" width="128.80" height="1.60" fill="#ececec" />
<line x1="407.00" y1="333.20" x2="407.00" y2="346.90" stroke="#d6d6d6" stroke-width="0.6" />
<line x1="407.00" y1="349.80" x2="407.00" y2="362.70" stroke="#d6d6d6" stroke-width="0.6" />
<line x1="407.00" y1="365.70" x2="407.00" y2="380.50" stroke="#d6d6d6" stroke-width="0.6" />
<line x1="447.60" y1="333.20" x2="447.60" y2="346.90" stroke="#d6d6d6" stroke-width="0.6" />
<line x1="447.60" y1="349.80" x2="447.60" y2="362.70" stroke="#d6d6d6" stroke-width="0.6" />
<line x1="447.60" y1="365.70" x2="447.60" y2="380.50" stroke="#d6d6d6" stroke-width="0.6" />
<path d="M364.30 338.32 Q364.30 337.95 365.50 337.95 L375.00 337.95 Q376.20 337.95 376.20 338.32 L376.20 339.15 Q370.25 339.75 364.30 339.15 Z" fill="#000" fill-opacity="0.45" filter="url(#bl)"/>
<path d="M379.10 338.30 Q379.10 337.40 380.30 337.40 L391.10 337.40 Q392.30 337.40 392.30 338.30 L392.30 340.28 Q385.70 341.72 379.10 340.28 Z" fill="#000" fill-opacity="1.00" filter="url(#bl)"/>
<path d="M394.00 337.80 Q394.00 336.90 395.20 336.90 L405.70 336.90 Q406.90 336.90 406.90 337.80 L406.90 339.78 Q400.45 341.22 394.00 339.78 Z" fill="#000" fill-opacity="1.00" filter="url(#bl)"/>
<path d="M409.20 338.75 Q409.20 338.30 410.40 338.30 L418.10 338.30 Q419.30 338.30 419.30 338.75 L419.30 339.74 Q414.25 340.46 409.20 339.74 Z" fill="#000" fill-opacity="0.75" filter="url(#bl)"/>
<path d="M422.70 338.80 Q422.70 338.40 423.90 338.40 L432.20 338.40 Q433.40 338.40 433.40 338.80 L433.40 339.68 Q428.05 340.32 422.70 339.68 Z" fill="#000" fill-opacity="0.55" filter="url(#bl)"/>
<path d="M436.80 338.85 Q436.80 338.50 438.00 338.50 L444.40 338.50 Q445.60 338.50 445.60 338.85 L445.60 339.62 Q441.20 340.18 436.80 339.62 Z" fill="#000" fill-opacity="0.30" filter="url(#bl)"/>
<path d="M450.30 338.50 Q450.30 338.00 451.50 338.00 L459.20 338.00 Q460.40 338.00 460.40 338.50 L460.40 339.60 Q455.35 340.40 450.30 339.60 Z" fill="#000" fill-opacity="0.90" filter="url(#bl)"/>
<path d="M463.70 338.35 Q463.70 337.70 464.90 337.70 L473.30 337.70 Q474.50 337.70 474.50 338.35 L474.50 339.78 Q469.10 340.82 463.70 339.78 Z" fill="#000" fill-opacity="1.00" filter="url(#bl)"/>
<path d="M477.90 338.82 Q477.90 338.45 479.10 338.45 L486.80 338.45 Q488.00 338.45 488.00 338.82 L488.00 339.65 Q482.95 340.25 477.90 339.65 Z" fill="#000" fill-opacity="0.40" filter="url(#bl)"/>
<path d="M363.40 355.35 Q363.40 354.60 364.60 354.60 L375.00 354.60 Q376.20 354.60 376.20 355.35 L376.20 357.00 Q369.80 358.20 363.40 357.00 Z" fill="#000" fill-opacity="1.00" filter="url(#bl)"/>
<path d="M378.90 355.40 Q378.90 354.70 380.10 354.70 L389.10 354.70 Q390.30 354.70 390.30 355.40 L390.30 356.94 Q384.60 358.06 378.90 356.94 Z" fill="#000" fill-opacity="1.00" filter="url(#bl)"/>
<path d="M393.70 355.40 Q393.70 354.70 394.90 354.70 L403.90 354.70 Q405.10 354.70 405.10 355.40 L405.10 356.94 Q399.40 358.06 393.70 356.94 Z" fill="#000" fill-opacity="1.00" filter="url(#bl)"/>
<path d="M407.10 355.40 Q407.10 354.70 408.30 354.70 L417.40 354.70 Q418.60 354.70 418.60 355.40 L418.60 356.94 Q412.85 358.06 407.10 356.94 Z" fill="#000" fill-opacity="1.00" filter="url(#bl)"/>
<path d="M421.30 355.40 Q421.30 354.70 422.50 354.70 L430.90 354.70 Q432.10 354.70 432.10 355.40 L432.10 356.94 Q426.70 358.06 421.30 356.94 Z" fill="#000" fill-opacity="1.00" filter="url(#bl)"/>
<path d="M434.80 355.45 Q434.80 354.80 436.00 354.80 L445.00 354.80 Q446.20 354.80 446.20 355.45 L446.20 356.88 Q440.50 357.92 434.80 356.88 Z" fill="#000" fill-opacity="1.00" filter="url(#bl)"/>
<path d="M448.20 355.45 Q448.20 354.80 449.40 354.80 L457.80 354.80 Q459.00 354.80 459.00 355.45 L459.00 356.88 Q453.60 357.92 448.20 356.88 Z" fill="#000" fill-opacity="1.00" filter="url(#bl)"/>
<path d="M462.40 355.40 Q462.40 354.70 463.60 354.70 L471.90 354.70 Q473.10 354.70 473.10 355.40 L473.10 356.94 Q467.75 358.06 462.40 356.94 Z" fill="#000" fill-opacity="1.00" filter="url(#bl)"/>
<path d="M475.80 355.45 Q475.80 354.80 477.00 354.80 L485.40 354.80 Q486.60 354.80 486.60 355.45 L486.60 356.88 Q481.20 357.92 475.80 356.88 Z" fill="#000" fill-opacity="0.95" filter="url(#bl)"/>
<path d="M362.70 372.95 Q362.70 372.50 363.90 372.50 L373.60 372.50 Q374.80 372.50 374.80 372.95 L374.80 373.94 Q368.75 374.66 362.70 373.94 Z" fill="#000" fill-opacity="0.90" filter="url(#bl)"/>
<path d="M378.90 372.95 Q378.90 372.50 380.10 372.50 L388.40 372.50 Q389.60 372.50 389.60 372.95 L389.60 373.94 Q384.25 374.66 378.90 373.94 Z" fill="#000" fill-opacity="0.90" filter="url(#bl)"/>
<path d="M393.00 372.85 Q393.00 372.40 394.20 372.40 L402.60 372.40 Q403.80 372.40 403.80 372.85 L403.80 373.84 Q398.40 374.56 393.00 373.84 Z" fill="#000" fill-opacity="0.90" filter="url(#bl)"/>
<path d="M407.10 372.75 Q407.10 372.30 408.30 372.30 L416.00 372.30 Q417.20 372.30 417.20 372.75 L417.20 373.74 Q412.15 374.46 407.10 373.74 Z" fill="#000" fill-opacity="0.90" filter="url(#bl)"/>
<path d="M421.00 372.55 Q421.00 372.10 422.20 372.10 L429.50 372.10 Q430.70 372.10 430.70 372.55 L430.70 373.54 Q425.85 374.26 421.00 373.54 Z" fill="#000" fill-opacity="0.90" filter="url(#bl)"/>
<path d="M434.80 372.45 Q434.80 372.00 436.00 372.00 L443.70 372.00 Q444.90 372.00 444.90 372.45 L444.90 373.44 Q439.85 374.16 434.80 373.44 Z" fill="#000" fill-opacity="0.90" filter="url(#bl)"/>
<path d="M448.20 372.35 Q448.20 371.90 449.40 371.90 L457.10 371.90 Q458.30 371.90 458.30 372.35 L458.30 373.34 Q453.25 374.06 448.20 373.34 Z" fill="#000" fill-opacity="0.90" filter="url(#bl)"/>
<path d="M462.10 372.35 Q462.10 371.90 463.30 371.90 L471.30 371.90 Q472.50 371.90 472.50 372.35 L472.50 373.34 Q467.30 374.06 462.10 373.34 Z" fill="#000" fill-opacity="0.90" filter="url(#bl)"/>
<path d="M475.80 372.35 Q475.80 371.90 477.00 371.90 L484.70 371.90 Q485.90 371.90 485.90 372.35 L485.90 373.34 Q480.85 374.06 475.80 373.34 Z" fill="#000" fill-opacity="0.90" filter="url(#bl)"/>
<text x="493.20" y="337.60" font-size="7.8" text-anchor="start" font-weight="normal" fill="#111" stroke="#111" stroke-width="0.36" >pAKT</text>
<text x="493.20" y="345.60" font-size="7.8" text-anchor="start" font-weight="normal" fill="#111" stroke="#111" stroke-width="0.36" >(S473)</text>
<text x="493.20" y="359.20" font-size="7.8" text-anchor="start" font-weight="normal" fill="#111" stroke="#111" stroke-width="0.36" >AKT</text>
<text x="493.20" y="376.90" font-size="7.8" text-anchor="start" font-weight="normal" fill="#111" stroke="#111" stroke-width="0.36" >Vinculin</text>
</g>
</svg>
</body></html>
